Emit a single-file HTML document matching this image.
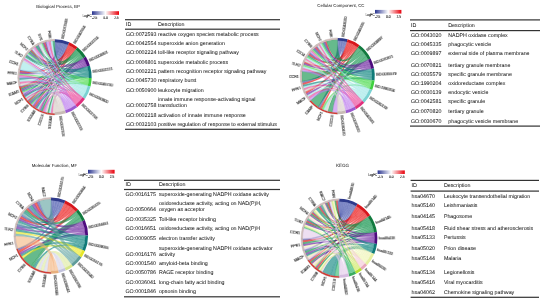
<!DOCTYPE html>
<html><head><meta charset="utf-8"><style>
html,body{margin:0;padding:0;background:#fff;width:550px;height:308px;overflow:hidden}
#root{position:absolute;left:0;top:0;width:550px;height:308px}
svg{display:block}
svg{position:absolute;left:0;top:0}
.t{font-family:"Liberation Sans",Arial,sans-serif;font-size:5.3px;fill:#1a1a1a;stroke:#1a1a1a;stroke-width:0.04px}
.ti{font-family:"Liberation Sans",Arial,sans-serif;font-size:4.35px;fill:#222;stroke:#222;stroke-width:0.03px}
.lg{font-family:"Liberation Sans",Arial,sans-serif;font-size:3.2px;fill:#111;stroke:#111;stroke-width:0.08px}
.hl{position:absolute;left:0;top:0;font-family:"Liberation Sans",Arial,sans-serif;color:#111;-webkit-text-stroke:1px #111;white-space:nowrap;transform-origin:0 0;will-change:transform}
.lg2{color:#484848;-webkit-text-stroke:0.6px #484848}
.lb2{font-family:"Liberation Sans",Arial,sans-serif;font-size:34.5px;fill:#333}
.lb{position:absolute;left:0;top:0;font-family:"Liberation Sans",Arial,sans-serif;font-size:36px;line-height:36px;color:#1a1a1a;-webkit-text-stroke:1.2px #1a1a1a;white-space:nowrap;transform-origin:0 0;will-change:transform}
</style></head><body><div id="root">
<svg width="550" height="308" viewBox="0 0 550 308" xmlns="http://www.w3.org/2000/svg" text-rendering="geometricPrecision">
<defs><linearGradient id="lgd" x1="0" x2="1" y1="0" y2="0">
<stop offset="0" stop-color="#2a3590"/><stop offset="0.5" stop-color="#ffffff"/><stop offset="1" stop-color="#e8000b"/>
</linearGradient></defs>
<rect x="125" y="19.10" width="155" height="1.2" fill="#333"/>
<rect x="125" y="28.60" width="155" height="1.2" fill="#333"/>
<rect x="125" y="128.70" width="155" height="1.2" fill="#333"/>
<text x="126" y="25.85" class="t">ID</text>
<text x="158" y="25.85" class="t">Description</text>
<text x="126" y="35.70" class="t">GO:0072593</text>
<text x="158" y="35.70" class="t">reactive oxygen species metabolic process</text>
<text x="126" y="44.55" class="t">GO:0042554</text>
<text x="158" y="44.55" class="t">superoxide anion generation</text>
<text x="126" y="54.25" class="t">GO:0002224</text>
<text x="158" y="54.25" class="t">toll-like receptor signaling pathway</text>
<text x="126" y="63.75" class="t">GO:0006801</text>
<text x="158" y="63.75" class="t">superoxide metabolic process</text>
<text x="126" y="72.75" class="t">GO:0002221</text>
<text x="158" y="72.75" class="t">pattern recognition receptor signaling pathway</text>
<text x="126" y="82.25" class="t">GO:0045730</text>
<text x="158" y="82.25" class="t">respiratory burst</text>
<text x="126" y="91.75" class="t">GO:0050900</text>
<text x="158" y="91.75" class="t">leukocyte migration</text>
<text x="126" y="107.25" class="t">GO:0002758</text>
<text x="158" y="100.85" class="t">innate immune response-activating signal</text>
<text x="158" y="107.25" class="t">transduction</text>
<text x="126" y="116.75" class="t">GO:0002218</text>
<text x="158" y="116.75" class="t">activation of innate immune response</text>
<text x="126" y="126.05" class="t">GO:0032103</text>
<text x="158" y="126.05" class="t">positive regulation of response to external stimulus</text>
<rect x="410" y="19.30" width="130" height="1.2" fill="#333"/>
<rect x="410" y="30.00" width="130" height="1.2" fill="#333"/>
<rect x="410" y="125.50" width="130" height="1.2" fill="#333"/>
<text x="411" y="26.95" class="t">ID</text>
<text x="448.3" y="26.95" class="t">Description</text>
<text x="411" y="36.65" class="t">GO:0043020</text>
<text x="448.3" y="36.65" class="t">NADPH oxidase complex</text>
<text x="411" y="45.75" class="t">GO:0045335</text>
<text x="448.3" y="45.75" class="t">phagocytic vesicle</text>
<text x="411" y="54.85" class="t">GO:0009897</text>
<text x="448.3" y="54.85" class="t">external side of plasma membrane</text>
<text x="411" y="66.55" class="t">GO:0070821</text>
<text x="448.3" y="66.55" class="t">tertiary granule membrane</text>
<text x="411" y="75.55" class="t">GO:0035579</text>
<text x="448.3" y="75.55" class="t">specific granule membrane</text>
<text x="411" y="84.85" class="t">GO:1990204</text>
<text x="448.3" y="84.85" class="t">oxidoreductase complex</text>
<text x="411" y="94.35" class="t">GO:0030139</text>
<text x="448.3" y="94.35" class="t">endocytic vesicle</text>
<text x="411" y="103.45" class="t">GO:0042581</text>
<text x="448.3" y="103.45" class="t">specific granule</text>
<text x="411" y="113.15" class="t">GO:0070820</text>
<text x="448.3" y="113.15" class="t">tertiary granule</text>
<text x="411" y="122.55" class="t">GO:0030670</text>
<text x="448.3" y="122.55" class="t">phagocytic vesicle membrane</text>
<rect x="124" y="179.70" width="156" height="1.2" fill="#333"/>
<rect x="124" y="188.90" width="156" height="1.2" fill="#333"/>
<rect x="124" y="296.20" width="156" height="1.2" fill="#333"/>
<text x="125.5" y="186.45" class="t">ID</text>
<text x="158.9" y="186.45" class="t">Description</text>
<text x="125.5" y="196.15" class="t">GO:0016175</text>
<text x="158.9" y="196.15" class="t">superoxide-generating NADPH oxidase activity</text>
<text x="125.5" y="211.45" class="t">GO:0050664</text>
<text x="158.9" y="204.75" class="t">oxidoreductase activity, acting on NAD(P)H,</text>
<text x="158.9" y="211.45" class="t">oxygen as acceptor</text>
<text x="125.5" y="220.75" class="t">GO:0035325</text>
<text x="158.9" y="220.75" class="t">Toll-like receptor binding</text>
<text x="125.5" y="230.45" class="t">GO:0016651</text>
<text x="158.9" y="230.45" class="t">oxidoreductase activity, acting on NAD(P)H</text>
<text x="125.5" y="239.65" class="t">GO:0009055</text>
<text x="158.9" y="239.65" class="t">electron transfer activity</text>
<text x="125.5" y="255.55" class="t">GO:0016176</text>
<text x="158.9" y="249.55" class="t">superoxide-generating NADPH oxidase activator</text>
<text x="158.9" y="255.55" class="t">activity</text>
<text x="125.5" y="265.15" class="t">GO:0001540</text>
<text x="158.9" y="265.15" class="t">amyloid-beta binding</text>
<text x="125.5" y="274.45" class="t">GO:0050786</text>
<text x="158.9" y="274.45" class="t">RAGE receptor binding</text>
<text x="125.5" y="283.95" class="t">GO:0036041</text>
<text x="158.9" y="283.95" class="t">long-chain fatty acid binding</text>
<text x="125.5" y="293.25" class="t">GO:0001846</text>
<text x="158.9" y="293.25" class="t">opsonin binding</text>
<rect x="410.6" y="179.80" width="128.39999999999998" height="1.2" fill="#333"/>
<rect x="410.6" y="190.50" width="128.39999999999998" height="1.2" fill="#333"/>
<rect x="410.6" y="296.70" width="128.39999999999998" height="1.2" fill="#333"/>
<text x="411.6" y="187.45" class="t">ID</text>
<text x="443.9" y="187.45" class="t">Description</text>
<text x="411.6" y="197.75" class="t">hsa04670</text>
<text x="443.9" y="197.75" class="t">Leukocyte transendothelial migration</text>
<text x="411.6" y="207.25" class="t">hsa05140</text>
<text x="443.9" y="207.25" class="t">Leishmaniasis</text>
<text x="411.6" y="218.25" class="t">hsa04145</text>
<text x="443.9" y="218.25" class="t">Phagosome</text>
<text x="411.6" y="229.95" class="t">hsa05418</text>
<text x="443.9" y="229.95" class="t">Fluid shear stress and atherosclerosis</text>
<text x="411.6" y="239.05" class="t">hsa05133</text>
<text x="443.9" y="239.05" class="t">Pertussis</text>
<text x="411.6" y="250.25" class="t">hsa05020</text>
<text x="443.9" y="250.25" class="t">Prion disease</text>
<text x="411.6" y="259.65" class="t">hsa05144</text>
<text x="443.9" y="259.65" class="t">Malaria</text>
<text x="411.6" y="273.85" class="t">hsa05134</text>
<text x="443.9" y="273.85" class="t">Legionellosis</text>
<text x="411.6" y="283.85" class="t">hsa05416</text>
<text x="443.9" y="283.85" class="t">Viral myocarditis</text>
<text x="411.6" y="293.85" class="t">hsa04062</text>
<text x="443.9" y="293.85" class="t">Chemokine signaling pathway</text>
<text x="58" y="8.0" class="ti" text-anchor="middle">Biological Process, BP</text>
<text x="340.9" y="6.5" class="ti" text-anchor="middle">Cellular Component, CC</text>
<text x="54.4" y="166.8" class="ti" text-anchor="middle">Molecular Function, MF</text>
<text x="342.6" y="167.2" class="ti" text-anchor="middle" style="font-size:4.55px">KEGG</text>
<rect x="92" y="11.2" width="27" height="3.7" fill="url(#lgd)"/>
<rect x="375" y="9.9" width="26.4" height="3.7" fill="url(#lgd)"/>
<rect x="88" y="169.8" width="26.6" height="3.8" fill="url(#lgd)"/>
<rect x="377.6" y="170.4" width="27.2" height="3.6" fill="url(#lgd)"/>
<g transform="translate(54.7 77.2) scale(1 1.0257) translate(-54.7 -77.2)">
<g fill="#3c4ba8" fill-opacity="0.6" stroke="#3c4ba8" stroke-opacity="0.6" stroke-width="0.3">
<path d="M54.73,43.05A34.150000000000006,34.150000000000006 0 0 1 56.11,43.08Q54.70,77.20 45.08,43.08A35.45,35.45 0 0 1 46.39,42.74Q54.70,77.20 54.73,43.05Z"/>
<path d="M56.11,43.08A34.150000000000006,34.150000000000006 0 0 1 57.48,43.16Q54.70,77.20 37.54,46.18A35.45,35.45 0 0 1 38.72,45.56Q54.70,77.20 56.11,43.08Z"/>
<path d="M57.48,43.16A34.150000000000006,34.150000000000006 0 0 1 58.85,43.30Q54.70,77.20 31.23,50.63A35.45,35.45 0 0 1 32.01,49.96Q54.70,77.20 57.48,43.16Z"/>
<path d="M58.85,43.30A34.150000000000006,34.150000000000006 0 0 1 60.21,43.50Q54.70,77.20 26.27,56.02A35.45,35.45 0 0 1 26.94,55.16Q54.70,77.20 58.85,43.30Z"/>
<path d="M60.21,43.50A34.150000000000006,34.150000000000006 0 0 1 61.57,43.75Q54.70,77.20 19.77,71.17A35.45,35.45 0 0 1 20.02,69.86Q54.70,77.20 60.21,43.50Z"/>
<path d="M61.57,43.75A34.150000000000006,34.150000000000006 0 0 1 62.91,44.05Q54.70,77.20 20.62,86.95A35.45,35.45 0 0 1 20.31,85.81Q54.70,77.20 61.57,43.75Z"/>
<path d="M62.91,44.05A34.150000000000006,34.150000000000006 0 0 1 64.24,44.41Q54.70,77.20 23.86,94.67A35.45,35.45 0 0 1 23.27,93.60Q54.70,77.20 62.91,44.05Z"/>
<path d="M64.24,44.41A34.150000000000006,34.150000000000006 0 0 1 65.55,44.82Q54.70,77.20 28.05,100.57A35.45,35.45 0 0 1 27.37,99.77Q54.70,77.20 64.24,44.41Z"/>
<path d="M65.55,44.82A34.150000000000006,34.150000000000006 0 0 1 66.85,45.28Q54.70,77.20 33.75,105.80A35.45,35.45 0 0 1 32.66,104.96Q54.70,77.20 65.55,44.82Z"/>
<path d="M66.85,45.28A34.150000000000006,34.150000000000006 0 0 1 68.13,45.80Q54.70,77.20 41.21,109.98A35.45,35.45 0 0 1 39.75,109.34Q54.70,77.20 66.85,45.28Z"/>
</g>
<g fill="#e90707" fill-opacity="0.6" stroke="#e90707" stroke-opacity="0.6" stroke-width="0.3">
<path d="M68.18,45.82A34.150000000000006,34.150000000000006 0 0 1 69.51,46.43Q54.70,77.20 43.78,43.47A35.45,35.45 0 0 1 45.08,43.08Q54.70,77.20 68.18,45.82Z"/>
<path d="M69.51,46.43A34.150000000000006,34.150000000000006 0 0 1 70.81,47.09Q54.70,77.20 30.47,51.33A35.45,35.45 0 0 1 31.23,50.63Q54.70,77.20 69.51,46.43Z"/>
<path d="M70.81,47.09A34.150000000000006,34.150000000000006 0 0 1 72.08,47.81Q54.70,77.20 19.57,72.48A35.45,35.45 0 0 1 19.77,71.17Q54.70,77.20 70.81,47.09Z"/>
<path d="M72.08,47.81A34.150000000000006,34.150000000000006 0 0 1 73.32,48.58Q54.70,77.20 20.96,88.08A35.45,35.45 0 0 1 20.62,86.95Q54.70,77.20 72.08,47.81Z"/>
<path d="M73.32,48.58A34.150000000000006,34.150000000000006 0 0 1 74.53,49.40Q54.70,77.20 28.75,101.35A35.45,35.45 0 0 1 28.05,100.57Q54.70,77.20 73.32,48.58Z"/>
<path d="M74.53,49.40A34.150000000000006,34.150000000000006 0 0 1 75.70,50.27Q54.70,77.20 34.89,106.60A35.45,35.45 0 0 1 33.75,105.80Q54.70,77.20 74.53,49.40Z"/>
</g>
<g fill="#008c3f" fill-opacity="0.6" stroke="#008c3f" stroke-opacity="0.6" stroke-width="0.3">
<path d="M75.75,50.31A34.150000000000006,34.150000000000006 0 0 1 76.84,51.20Q54.70,77.20 52.60,41.81A35.45,35.45 0 0 1 54.67,41.75Q54.70,77.20 75.75,50.31Z"/>
<path d="M76.84,51.20A34.150000000000006,34.150000000000006 0 0 1 77.90,52.14Q54.70,77.20 36.39,46.85A35.45,35.45 0 0 1 37.54,46.18Q54.70,77.20 76.84,51.20Z"/>
<path d="M77.90,52.14A34.150000000000006,34.150000000000006 0 0 1 78.92,53.13Q54.70,77.20 29.72,52.04A35.45,35.45 0 0 1 30.47,51.33Q54.70,77.20 77.90,52.14Z"/>
<path d="M78.92,53.13A34.150000000000006,34.150000000000006 0 0 1 79.90,54.15Q54.70,77.20 25.63,56.91A35.45,35.45 0 0 1 26.27,56.02Q54.70,77.20 78.92,53.13Z"/>
<path d="M79.90,54.15A34.150000000000006,34.150000000000006 0 0 1 80.83,55.21Q54.70,77.20 21.34,89.20A35.45,35.45 0 0 1 20.96,88.08Q54.70,77.20 79.90,54.15Z"/>
<path d="M80.83,55.21A34.150000000000006,34.150000000000006 0 0 1 81.72,56.32Q54.70,77.20 29.48,102.11A35.45,35.45 0 0 1 28.75,101.35Q54.70,77.20 80.83,55.21Z"/>
<path d="M81.72,56.32A34.150000000000006,34.150000000000006 0 0 1 82.56,57.45Q54.70,77.20 42.70,110.56A35.45,35.45 0 0 1 41.21,109.98Q54.70,77.20 81.72,56.32Z"/>
<path d="M82.56,57.45A34.150000000000006,34.150000000000006 0 0 1 83.36,58.63Q54.70,77.20 49.17,112.22A35.45,35.45 0 0 1 47.36,111.88Q54.70,77.20 82.56,57.45Z"/>
</g>
<g fill="#641799" fill-opacity="0.6" stroke="#641799" stroke-opacity="0.6" stroke-width="0.3">
<path d="M83.39,58.68A34.150000000000006,34.150000000000006 0 0 1 84.06,59.76Q54.70,77.20 42.50,43.91A35.45,35.45 0 0 1 43.78,43.47Q54.70,77.20 83.39,58.68Z"/>
<path d="M84.06,59.76A34.150000000000006,34.150000000000006 0 0 1 84.69,60.87Q54.70,77.20 29.00,52.78A35.45,35.45 0 0 1 29.72,52.04Q54.70,77.20 84.06,59.76Z"/>
<path d="M84.69,60.87A34.150000000000006,34.150000000000006 0 0 1 85.28,62.00Q54.70,77.20 19.41,73.80A35.45,35.45 0 0 1 19.57,72.48Q54.70,77.20 84.69,60.87Z"/>
<path d="M85.28,62.00A34.150000000000006,34.150000000000006 0 0 1 85.83,63.16Q54.70,77.20 21.76,90.31A35.45,35.45 0 0 1 21.34,89.20Q54.70,77.20 85.28,62.00Z"/>
<path d="M85.83,63.16A34.150000000000006,34.150000000000006 0 0 1 86.33,64.33Q54.70,77.20 24.48,95.73A35.45,35.45 0 0 1 23.86,94.67Q54.70,77.20 85.83,63.16Z"/>
<path d="M86.33,64.33A34.150000000000006,34.150000000000006 0 0 1 86.79,65.52Q54.70,77.20 30.23,102.85A35.45,35.45 0 0 1 29.48,102.11Q54.70,77.20 86.33,64.33Z"/>
<path d="M86.79,65.52A34.150000000000006,34.150000000000006 0 0 1 87.21,66.73Q54.70,77.20 36.05,107.34A35.45,35.45 0 0 1 34.89,106.60Q54.70,77.20 86.79,65.52Z"/>
</g>
<g fill="#007f78" fill-opacity="0.6" stroke="#007f78" stroke-opacity="0.6" stroke-width="0.3">
<path d="M87.22,66.79A34.150000000000006,34.150000000000006 0 0 1 87.62,68.13Q54.70,77.20 35.26,47.55A35.45,35.45 0 0 1 36.39,46.85Q54.70,77.20 87.22,66.79Z"/>
<path d="M87.62,68.13A34.150000000000006,34.150000000000006 0 0 1 87.97,69.49Q54.70,77.20 28.31,53.54A35.45,35.45 0 0 1 29.00,52.78Q54.70,77.20 87.62,68.13Z"/>
<path d="M87.97,69.49A34.150000000000006,34.150000000000006 0 0 1 88.26,70.86Q54.70,77.20 25.01,57.82A35.45,35.45 0 0 1 25.63,56.91Q54.70,77.20 87.97,69.49Z"/>
<path d="M88.26,70.86A34.150000000000006,34.150000000000006 0 0 1 88.49,72.24Q54.70,77.20 19.35,79.84A35.45,35.45 0 0 1 19.26,77.85Q54.70,77.20 88.26,70.86Z"/>
<path d="M88.49,72.24A34.150000000000006,34.150000000000006 0 0 1 88.66,73.63Q54.70,77.20 22.22,91.40A35.45,35.45 0 0 1 21.76,90.31Q54.70,77.20 88.49,72.24Z"/>
<path d="M88.66,73.63A34.150000000000006,34.150000000000006 0 0 1 88.78,75.03Q54.70,77.20 25.14,96.77A35.45,35.45 0 0 1 24.48,95.73Q54.70,77.20 88.66,73.63Z"/>
<path d="M88.78,75.03A34.150000000000006,34.150000000000006 0 0 1 88.84,76.43Q54.70,77.20 31.00,103.57A35.45,35.45 0 0 1 30.23,102.85Q54.70,77.20 88.78,75.03Z"/>
<path d="M88.84,76.43A34.150000000000006,34.150000000000006 0 0 1 88.84,77.83Q54.70,77.20 37.23,108.05A35.45,35.45 0 0 1 36.05,107.34Q54.70,77.20 88.84,76.43Z"/>
</g>
<g fill="#44d946" fill-opacity="0.6" stroke="#44d946" stroke-opacity="0.6" stroke-width="0.3">
<path d="M88.84,77.89A34.150000000000006,34.150000000000006 0 0 1 88.78,79.42Q54.70,77.20 41.24,44.41A35.45,35.45 0 0 1 42.50,43.91Q54.70,77.20 88.84,77.89Z"/>
<path d="M88.78,79.42A34.150000000000006,34.150000000000006 0 0 1 88.64,80.95Q54.70,77.20 27.63,54.31A35.45,35.45 0 0 1 28.31,53.54Q54.70,77.20 88.78,79.42Z"/>
<path d="M88.64,80.95A34.150000000000006,34.150000000000006 0 0 1 88.44,82.48Q54.70,77.20 19.31,75.13A35.45,35.45 0 0 1 19.41,73.80Q54.70,77.20 88.64,80.95Z"/>
<path d="M88.44,82.48A34.150000000000006,34.150000000000006 0 0 1 88.17,83.99Q54.70,77.20 22.71,92.48A35.45,35.45 0 0 1 22.22,91.40Q54.70,77.20 88.44,82.48Z"/>
<path d="M88.17,83.99A34.150000000000006,34.150000000000006 0 0 1 87.83,85.49Q54.70,77.20 31.79,104.26A35.45,35.45 0 0 1 31.00,103.57Q54.70,77.20 88.17,83.99Z"/>
</g>
<g fill="#99e6e6" fill-opacity="0.6" stroke="#99e6e6" stroke-opacity="0.6" stroke-width="0.3">
<path d="M87.81,85.55A34.150000000000006,34.150000000000006 0 0 1 87.45,86.88Q54.70,77.20 50.53,42.00A35.45,35.45 0 0 1 52.60,41.81Q54.70,77.20 87.81,85.55Z"/>
<path d="M87.45,86.88A34.150000000000006,34.150000000000006 0 0 1 87.03,88.20Q54.70,77.20 39.99,44.94A35.45,35.45 0 0 1 41.24,44.41Q54.70,77.20 87.45,86.88Z"/>
<path d="M87.03,88.20A34.150000000000006,34.150000000000006 0 0 1 86.56,89.50Q54.70,77.20 26.98,55.11A35.45,35.45 0 0 1 27.63,54.31Q54.70,77.20 87.03,88.20Z"/>
<path d="M86.56,89.50A34.150000000000006,34.150000000000006 0 0 1 86.03,90.78Q54.70,77.20 24.43,58.75A35.45,35.45 0 0 1 25.01,57.82Q54.70,77.20 86.56,89.50Z"/>
<path d="M86.03,90.78A34.150000000000006,34.150000000000006 0 0 1 85.46,92.04Q54.70,77.20 20.03,69.80A35.45,35.45 0 0 1 22.82,61.69Q54.70,77.20 86.03,90.78Z"/>
<path d="M85.46,92.04A34.150000000000006,34.150000000000006 0 0 1 84.83,93.28Q54.70,77.20 19.55,81.83A35.45,35.45 0 0 1 19.35,79.84Q54.70,77.20 85.46,92.04Z"/>
<path d="M84.83,93.28A34.150000000000006,34.150000000000006 0 0 1 84.15,94.48Q54.70,77.20 25.83,97.78A35.45,35.45 0 0 1 25.14,96.77Q54.70,77.20 84.83,93.28Z"/>
<path d="M84.15,94.48A34.150000000000006,34.150000000000006 0 0 1 83.43,95.66Q54.70,77.20 38.45,108.71A35.45,35.45 0 0 1 37.23,108.05Q54.70,77.20 84.15,94.48Z"/>
<path d="M83.43,95.66A34.150000000000006,34.150000000000006 0 0 1 82.66,96.81Q54.70,77.20 50.99,112.46A35.45,35.45 0 0 1 49.17,112.22Q54.70,77.20 83.43,95.66Z"/>
</g>
<g fill="#e93f96" fill-opacity="0.6" stroke="#e93f96" stroke-opacity="0.6" stroke-width="0.3">
<path d="M82.62,96.86A34.150000000000006,34.150000000000006 0 0 1 81.94,97.79Q54.70,77.20 48.48,42.30A35.45,35.45 0 0 1 50.53,42.00Q54.70,77.20 82.62,96.86Z"/>
<path d="M81.94,97.79A34.150000000000006,34.150000000000006 0 0 1 81.23,98.70Q54.70,77.20 34.16,48.30A35.45,35.45 0 0 1 35.26,47.55Q54.70,77.20 81.94,97.79Z"/>
<path d="M81.23,98.70A34.150000000000006,34.150000000000006 0 0 1 80.49,99.58Q54.70,77.20 23.87,59.69A35.45,35.45 0 0 1 24.43,58.75Q54.70,77.20 81.23,98.70Z"/>
<path d="M80.49,99.58A34.150000000000006,34.150000000000006 0 0 1 79.72,100.44Q54.70,77.20 19.26,76.46A35.45,35.45 0 0 1 19.31,75.13Q54.70,77.20 80.49,99.58Z"/>
<path d="M79.72,100.44A34.150000000000006,34.150000000000006 0 0 1 78.92,101.27Q54.70,77.20 19.87,83.80A35.45,35.45 0 0 1 19.55,81.83Q54.70,77.20 79.72,100.44Z"/>
<path d="M78.92,101.27A34.150000000000006,34.150000000000006 0 0 1 78.10,102.07Q54.70,77.20 26.56,98.76A35.45,35.45 0 0 1 25.83,97.78Q54.70,77.20 78.92,101.27Z"/>
<path d="M78.10,102.07A34.150000000000006,34.150000000000006 0 0 1 77.25,102.85Q54.70,77.20 39.69,109.32A35.45,35.45 0 0 1 38.45,108.71Q54.70,77.20 78.10,102.07Z"/>
<path d="M77.25,102.85A34.150000000000006,34.150000000000006 0 0 1 76.37,103.60Q54.70,77.20 44.21,111.06A35.45,35.45 0 0 1 42.70,110.56Q54.70,77.20 77.25,102.85Z"/>
<path d="M76.37,103.60A34.150000000000006,34.150000000000006 0 0 1 75.47,104.31Q54.70,77.20 52.83,112.60A35.45,35.45 0 0 1 50.99,112.46Q54.70,77.20 76.37,103.60Z"/>
</g>
<g fill="#bb7bed" fill-opacity="0.6" stroke="#bb7bed" stroke-opacity="0.6" stroke-width="0.3">
<path d="M75.42,104.35A34.150000000000006,34.150000000000006 0 0 1 74.05,105.34Q54.70,77.20 46.45,42.72A35.45,35.45 0 0 1 48.48,42.30Q54.70,77.20 75.42,104.35Z"/>
<path d="M74.05,105.34A34.150000000000006,34.150000000000006 0 0 1 72.64,106.26Q54.70,77.20 33.09,49.09A35.45,35.45 0 0 1 34.16,48.30Q54.70,77.20 74.05,105.34Z"/>
<path d="M72.64,106.26A34.150000000000006,34.150000000000006 0 0 1 71.19,107.11Q54.70,77.20 23.35,60.65A35.45,35.45 0 0 1 23.87,59.69Q54.70,77.20 72.64,106.26Z"/>
<path d="M71.19,107.11A34.150000000000006,34.150000000000006 0 0 1 69.69,107.88Q54.70,77.20 19.25,77.79A35.45,35.45 0 0 1 19.26,76.46Q54.70,77.20 71.19,107.11Z"/>
<path d="M69.69,107.88A34.150000000000006,34.150000000000006 0 0 1 68.16,108.59Q54.70,77.20 23.24,93.54A35.45,35.45 0 0 1 22.71,92.48Q54.70,77.20 69.69,107.88Z"/>
<path d="M68.16,108.59A34.150000000000006,34.150000000000006 0 0 1 66.59,109.21Q54.70,77.20 32.61,104.92A35.45,35.45 0 0 1 31.79,104.26Q54.70,77.20 68.16,108.59Z"/>
<path d="M66.59,109.21A34.150000000000006,34.150000000000006 0 0 1 65.00,109.76Q54.70,77.20 45.75,111.50A35.45,35.45 0 0 1 44.21,111.06Q54.70,77.20 66.59,109.21Z"/>
</g>
<g fill="#d9cfc8" fill-opacity="0.6" stroke="#d9cfc8" stroke-opacity="0.6" stroke-width="0.3">
<path d="M64.94,109.78A34.150000000000006,34.150000000000006 0 0 1 63.52,110.19Q54.70,77.20 38.77,45.53A35.45,35.45 0 0 1 39.99,44.94Q54.70,77.20 64.94,109.78Z"/>
<path d="M63.52,110.19A34.150000000000006,34.150000000000006 0 0 1 62.08,110.54Q54.70,77.20 32.06,49.92A35.45,35.45 0 0 1 33.09,49.09Q54.70,77.20 63.52,110.19Z"/>
<path d="M62.08,110.54A34.150000000000006,34.150000000000006 0 0 1 60.63,110.83Q54.70,77.20 22.85,61.63A35.45,35.45 0 0 1 23.35,60.65Q54.70,77.20 62.08,110.54Z"/>
<path d="M60.63,110.83A34.150000000000006,34.150000000000006 0 0 1 59.16,111.06Q54.70,77.20 20.30,85.75A35.45,35.45 0 0 1 19.87,83.80Q54.70,77.20 60.63,110.83Z"/>
<path d="M59.16,111.06A34.150000000000006,34.150000000000006 0 0 1 57.69,111.22Q54.70,77.20 27.33,99.73A35.45,35.45 0 0 1 26.56,98.76Q54.70,77.20 59.16,111.06Z"/>
<path d="M57.69,111.22A34.150000000000006,34.150000000000006 0 0 1 56.21,111.32Q54.70,77.20 47.30,111.87A35.45,35.45 0 0 1 45.75,111.50Q54.70,77.20 57.69,111.22Z"/>
<path d="M56.21,111.32A34.150000000000006,34.150000000000006 0 0 1 54.73,111.35Q54.70,77.20 54.67,112.65A35.45,35.45 0 0 1 52.83,112.60Q54.70,77.20 56.21,111.32Z"/>
</g>
<path d="M54.70,40.25A36.95,36.95 0 0 1 69.26,43.24L68.15,45.81A34.150000000000006,34.150000000000006 0 0 0 54.70,43.05Z" fill="#2e3a8c"/>
<path d="M69.26,43.24A36.95,36.95 0 0 1 77.45,48.08L75.72,50.29A34.150000000000006,34.150000000000006 0 0 0 68.15,45.81Z" fill="#d8161c"/>
<path d="M77.45,48.08A36.95,36.95 0 0 1 85.72,57.13L83.37,58.65A34.150000000000006,34.150000000000006 0 0 0 75.72,50.29Z" fill="#117a3e"/>
<path d="M85.72,57.13A36.95,36.95 0 0 1 89.88,65.90L87.22,66.76A34.150000000000006,34.150000000000006 0 0 0 83.37,58.65Z" fill="#4d0c7e"/>
<path d="M89.88,65.90A36.95,36.95 0 0 1 91.64,77.91L88.84,77.86A34.150000000000006,34.150000000000006 0 0 0 87.22,66.76Z" fill="#0f7a78"/>
<path d="M91.64,77.91A36.95,36.95 0 0 1 90.54,86.20L87.82,85.52A34.150000000000006,34.150000000000006 0 0 0 88.84,77.86Z" fill="#3fd03f"/>
<path d="M90.54,86.20A36.95,36.95 0 0 1 84.93,98.45L82.64,96.84A34.150000000000006,34.150000000000006 0 0 0 87.82,85.52Z" fill="#7ad2d2"/>
<path d="M84.93,98.45A36.95,36.95 0 0 1 77.14,106.55L75.44,104.33A34.150000000000006,34.150000000000006 0 0 0 82.64,96.84Z" fill="#e0307c"/>
<path d="M77.14,106.55A36.95,36.95 0 0 1 65.81,112.44L64.97,109.77A34.150000000000006,34.150000000000006 0 0 0 75.44,104.33Z" fill="#9a5ad0"/>
<path d="M65.81,112.44A36.95,36.95 0 0 1 54.70,114.15L54.70,111.35A34.150000000000006,34.150000000000006 0 0 0 64.97,109.77Z" fill="#c8bcb6"/>
<path d="M54.70,114.15A36.95,36.95 0 0 1 47.02,113.34L47.33,111.88A35.45,35.45 0 0 0 54.70,112.65Z" fill="#d8322a" stroke="#9a8c8a" stroke-width="0.25"/>
<path d="M47.02,113.34A36.95,36.95 0 0 1 39.08,110.69L39.72,109.33A35.45,35.45 0 0 0 47.33,111.88Z" fill="#d8322a" stroke="#9a8c8a" stroke-width="0.25"/>
<path d="M39.08,110.69A36.95,36.95 0 0 1 31.70,106.12L32.63,104.94A35.45,35.45 0 0 0 39.72,109.33Z" fill="#d8322a" stroke="#9a8c8a" stroke-width="0.25"/>
<path d="M31.70,106.12A36.95,36.95 0 0 1 26.19,100.70L27.35,99.75A35.45,35.45 0 0 0 32.63,104.94Z" fill="#d8322a" stroke="#9a8c8a" stroke-width="0.25"/>
<path d="M26.19,100.70A36.95,36.95 0 0 1 21.92,94.26L23.26,93.57A35.45,35.45 0 0 0 27.35,99.75Z" fill="#d8322a" stroke="#9a8c8a" stroke-width="0.25"/>
<path d="M21.92,94.26A36.95,36.95 0 0 1 18.85,86.14L20.30,85.78A35.45,35.45 0 0 0 23.26,93.57Z" fill="#d8322a" stroke="#9a8c8a" stroke-width="0.25"/>
<path d="M18.85,86.14A36.95,36.95 0 0 1 17.76,77.84L19.26,77.82A35.45,35.45 0 0 0 20.30,85.78Z" fill="#d6c2c0" stroke="#9a8c8a" stroke-width="0.25"/>
<path d="M17.76,77.84A36.95,36.95 0 0 1 18.56,69.52L20.02,69.83A35.45,35.45 0 0 0 19.26,77.82Z" fill="#d6c2c0" stroke="#9a8c8a" stroke-width="0.25"/>
<path d="M18.56,69.52A36.95,36.95 0 0 1 21.49,61.00L22.84,61.66A35.45,35.45 0 0 0 20.02,69.83Z" fill="#d6c2c0" stroke="#9a8c8a" stroke-width="0.25"/>
<path d="M21.49,61.00A36.95,36.95 0 0 1 25.78,54.20L26.96,55.13A35.45,35.45 0 0 0 22.84,61.66Z" fill="#d6c2c0" stroke="#9a8c8a" stroke-width="0.25"/>
<path d="M25.78,54.20A36.95,36.95 0 0 1 31.07,48.79L32.03,49.94A35.45,35.45 0 0 0 26.96,55.13Z" fill="#d6c2c0" stroke="#9a8c8a" stroke-width="0.25"/>
<path d="M31.07,48.79A36.95,36.95 0 0 1 38.07,44.20L38.74,45.54A35.45,35.45 0 0 0 32.03,49.94Z" fill="#d6c2c0" stroke="#9a8c8a" stroke-width="0.25"/>
<path d="M38.07,44.20A36.95,36.95 0 0 1 46.07,41.27L46.42,42.73A35.45,35.45 0 0 0 38.74,45.54Z" fill="#d6c2c0" stroke="#9a8c8a" stroke-width="0.25"/>
<path d="M46.07,41.27A36.95,36.95 0 0 1 54.70,40.25L54.70,41.75A35.45,35.45 0 0 0 46.42,42.73Z" fill="#d6c2c0" stroke="#9a8c8a" stroke-width="0.25"/>
</g>
<g transform="translate(337.5 76.05) scale(1 1.0228) translate(-337.5 -76.05)">
<g fill="#3c4ba8" fill-opacity="0.6" stroke="#3c4ba8" stroke-opacity="0.6" stroke-width="0.3">
<path d="M337.53,41.55A34.5,34.5 0 0 1 339.89,41.63Q337.50,76.05 316.08,47.37A35.8,35.8 0 0 1 317.20,46.56Q337.50,76.05 337.53,41.55Z"/>
<path d="M339.89,41.63A34.5,34.5 0 0 1 342.24,41.88Q337.50,76.05 309.14,54.20A35.8,35.8 0 0 1 310.06,53.06Q337.50,76.05 339.89,41.63Z"/>
<path d="M342.24,41.88A34.5,34.5 0 0 1 344.57,42.28Q337.50,76.05 302.40,83.11A35.8,35.8 0 0 1 302.10,81.37Q337.50,76.05 342.24,41.88Z"/>
<path d="M344.57,42.28A34.5,34.5 0 0 1 346.86,42.85Q337.50,76.05 320.05,107.31A35.8,35.8 0 0 1 318.29,106.26Q337.50,76.05 344.57,42.28Z"/>
</g>
<g fill="#e90707" fill-opacity="0.6" stroke="#e90707" stroke-opacity="0.6" stroke-width="0.3">
<path d="M346.92,42.86A34.5,34.5 0 0 1 348.59,43.38Q337.50,76.05 325.03,42.49A35.8,35.8 0 0 1 326.41,42.01Q337.50,76.05 346.92,42.86Z"/>
<path d="M348.59,43.38A34.5,34.5 0 0 1 350.23,43.98Q337.50,76.05 314.99,48.21A35.8,35.8 0 0 1 316.08,47.37Q337.50,76.05 348.59,43.38Z"/>
<path d="M350.23,43.98A34.5,34.5 0 0 1 351.83,44.67Q337.50,76.05 308.27,55.38A35.8,35.8 0 0 1 309.14,54.20Q337.50,76.05 350.23,43.98Z"/>
<path d="M351.83,44.67A34.5,34.5 0 0 1 353.40,45.43Q337.50,76.05 304.03,63.34A35.8,35.8 0 0 1 304.66,61.80Q337.50,76.05 351.83,44.67Z"/>
<path d="M353.40,45.43A34.5,34.5 0 0 1 354.93,46.28Q337.50,76.05 302.79,84.82A35.8,35.8 0 0 1 302.40,83.11Q337.50,76.05 353.40,45.43Z"/>
<path d="M354.93,46.28A34.5,34.5 0 0 1 356.42,47.20Q337.50,76.05 306.11,93.26A35.8,35.8 0 0 1 305.20,91.49Q337.50,76.05 354.93,46.28Z"/>
<path d="M356.42,47.20A34.5,34.5 0 0 1 357.85,48.19Q337.50,76.05 321.87,108.26A35.8,35.8 0 0 1 320.05,107.31Q337.50,76.05 356.42,47.20Z"/>
</g>
<g fill="#008c3f" fill-opacity="0.6" stroke="#008c3f" stroke-opacity="0.6" stroke-width="0.3">
<path d="M357.90,48.23A34.5,34.5 0 0 1 360.94,50.74Q337.50,76.05 326.47,41.99A35.8,35.8 0 0 1 337.47,40.25Q337.50,76.05 357.90,48.23Z"/>
<path d="M360.94,50.74A34.5,34.5 0 0 1 363.68,53.58Q337.50,76.05 302.09,81.31A35.8,35.8 0 0 1 302.00,71.41Q337.50,76.05 360.94,50.74Z"/>
<path d="M363.68,53.58A34.5,34.5 0 0 1 366.07,56.71Q337.50,76.05 318.24,106.23A35.8,35.8 0 0 1 310.71,99.80Q337.50,76.05 363.68,53.58Z"/>
<path d="M366.07,56.71A34.5,34.5 0 0 1 368.09,60.09Q337.50,76.05 332.52,111.50A35.8,35.8 0 0 1 327.66,110.47Q337.50,76.05 366.07,56.71Z"/>
</g>
<g fill="#641799" fill-opacity="0.6" stroke="#641799" stroke-opacity="0.6" stroke-width="0.3">
<path d="M368.12,60.15A34.5,34.5 0 0 1 369.13,62.28Q337.50,76.05 323.66,43.03A35.8,35.8 0 0 1 325.03,42.49Q337.50,76.05 368.12,60.15Z"/>
<path d="M369.13,62.28A34.5,34.5 0 0 1 370.00,64.48Q337.50,76.05 313.94,49.09A35.8,35.8 0 0 1 314.99,48.21Q337.50,76.05 369.13,62.28Z"/>
<path d="M370.00,64.48A34.5,34.5 0 0 1 370.72,66.73Q337.50,76.05 303.48,64.90A35.8,35.8 0 0 1 304.03,63.34Q337.50,76.05 370.00,64.48Z"/>
<path d="M370.72,66.73A34.5,34.5 0 0 1 371.28,69.02Q337.50,76.05 307.11,94.97A35.8,35.8 0 0 1 306.11,93.26Q337.50,76.05 370.72,66.73Z"/>
</g>
<g fill="#007f78" fill-opacity="0.6" stroke="#007f78" stroke-opacity="0.6" stroke-width="0.3">
<path d="M371.29,69.08A34.5,34.5 0 0 1 371.74,71.80Q337.50,76.05 322.33,43.62A35.8,35.8 0 0 1 323.66,43.03Q337.50,76.05 371.29,69.08Z"/>
<path d="M371.74,71.80A34.5,34.5 0 0 1 371.97,74.55Q337.50,76.05 312.92,50.02A35.8,35.8 0 0 1 313.94,49.09Q337.50,76.05 371.74,71.80Z"/>
<path d="M371.97,74.55A34.5,34.5 0 0 1 371.98,77.30Q337.50,76.05 307.45,56.59A35.8,35.8 0 0 1 308.27,55.38Q337.50,76.05 371.97,74.55Z"/>
<path d="M371.98,77.30A34.5,34.5 0 0 1 371.77,80.05Q337.50,76.05 303.26,86.52A35.8,35.8 0 0 1 302.79,84.82Q337.50,76.05 371.98,77.30Z"/>
</g>
<g fill="#44d946" fill-opacity="0.6" stroke="#44d946" stroke-opacity="0.6" stroke-width="0.3">
<path d="M371.76,80.11A34.5,34.5 0 0 1 371.51,81.85Q337.50,76.05 321.01,44.27A35.8,35.8 0 0 1 322.33,43.62Q337.50,76.05 371.76,80.11Z"/>
<path d="M371.51,81.85A34.5,34.5 0 0 1 371.17,83.57Q337.50,76.05 311.94,50.98A35.8,35.8 0 0 1 312.92,50.02Q337.50,76.05 371.51,81.85Z"/>
<path d="M371.17,83.57A34.5,34.5 0 0 1 370.74,85.28Q337.50,76.05 306.68,57.84A35.8,35.8 0 0 1 307.45,56.59Q337.50,76.05 371.17,83.57Z"/>
<path d="M370.74,85.28A34.5,34.5 0 0 1 370.23,86.96Q337.50,76.05 303.00,66.48A35.8,35.8 0 0 1 303.48,64.90Q337.50,76.05 370.74,85.28Z"/>
<path d="M370.23,86.96A34.5,34.5 0 0 1 369.63,88.61Q337.50,76.05 323.74,109.10A35.8,35.8 0 0 1 321.87,108.26Q337.50,76.05 370.23,86.96Z"/>
</g>
<g fill="#99e6e6" fill-opacity="0.6" stroke="#99e6e6" stroke-opacity="0.6" stroke-width="0.3">
<path d="M369.61,88.67A34.5,34.5 0 0 1 368.71,90.76Q337.50,76.05 319.73,44.97A35.8,35.8 0 0 1 321.01,44.27Q337.50,76.05 369.61,88.67Z"/>
<path d="M368.71,90.76A34.5,34.5 0 0 1 367.67,92.78Q337.50,76.05 305.96,59.11A35.8,35.8 0 0 1 306.68,57.84Q337.50,76.05 368.71,90.76Z"/>
<path d="M367.67,92.78A34.5,34.5 0 0 1 366.50,94.74Q337.50,76.05 302.60,68.09A35.8,35.8 0 0 1 303.00,66.48Q337.50,76.05 367.67,92.78Z"/>
<path d="M366.50,94.74A34.5,34.5 0 0 1 365.20,96.61Q337.50,76.05 303.82,88.19A35.8,35.8 0 0 1 303.26,86.52Q337.50,76.05 366.50,94.74Z"/>
<path d="M365.20,96.61A34.5,34.5 0 0 1 363.79,98.39Q337.50,76.05 308.21,96.63A35.8,35.8 0 0 1 307.11,94.97Q337.50,76.05 365.20,96.61Z"/>
<path d="M363.79,98.39A34.5,34.5 0 0 1 362.25,100.08Q337.50,76.05 325.65,109.83A35.8,35.8 0 0 1 323.74,109.10Q337.50,76.05 363.79,98.39Z"/>
</g>
<g fill="#e93f96" fill-opacity="0.6" stroke="#e93f96" stroke-opacity="0.6" stroke-width="0.3">
<path d="M362.21,100.12A34.5,34.5 0 0 1 361.08,101.23Q337.50,76.05 318.47,45.73A35.8,35.8 0 0 1 319.73,44.97Q337.50,76.05 362.21,100.12Z"/>
<path d="M361.08,101.23A34.5,34.5 0 0 1 359.90,102.29Q337.50,76.05 311.00,51.98A35.8,35.8 0 0 1 311.94,50.98Q337.50,76.05 361.08,101.23Z"/>
<path d="M359.90,102.29A34.5,34.5 0 0 1 358.67,103.29Q337.50,76.05 305.29,60.42A35.8,35.8 0 0 1 305.96,59.11Q337.50,76.05 359.90,102.29Z"/>
<path d="M358.67,103.29A34.5,34.5 0 0 1 357.40,104.24Q337.50,76.05 302.27,69.71A35.8,35.8 0 0 1 302.60,68.09Q337.50,76.05 358.67,103.29Z"/>
<path d="M357.40,104.24A34.5,34.5 0 0 1 356.08,105.12Q337.50,76.05 304.46,89.83A35.8,35.8 0 0 1 303.82,88.19Q337.50,76.05 357.40,104.24Z"/>
<path d="M356.08,105.12A34.5,34.5 0 0 1 354.72,105.94Q337.50,76.05 309.39,98.22A35.8,35.8 0 0 1 308.21,96.63Q337.50,76.05 356.08,105.12Z"/>
</g>
<g fill="#bb7bed" fill-opacity="0.6" stroke="#bb7bed" stroke-opacity="0.6" stroke-width="0.3">
<path d="M354.67,105.97A34.5,34.5 0 0 1 352.45,107.14Q337.50,76.05 310.10,53.01A35.8,35.8 0 0 1 311.00,51.98Q337.50,76.05 354.67,105.97Z"/>
<path d="M352.45,107.14A34.5,34.5 0 0 1 350.14,108.15Q337.50,76.05 302.01,71.35A35.8,35.8 0 0 1 302.27,69.71Q337.50,76.05 352.45,107.14Z"/>
<path d="M350.14,108.15A34.5,34.5 0 0 1 347.77,108.98Q337.50,76.05 310.67,99.75A35.8,35.8 0 0 1 309.39,98.22Q337.50,76.05 350.14,108.15Z"/>
<path d="M347.77,108.98A34.5,34.5 0 0 1 345.35,109.65Q337.50,76.05 337.47,111.85A35.8,35.8 0 0 1 332.52,111.50Q337.50,76.05 347.77,108.98Z"/>
</g>
<g fill="#d9cfc8" fill-opacity="0.6" stroke="#d9cfc8" stroke-opacity="0.6" stroke-width="0.3">
<path d="M345.29,109.66A34.5,34.5 0 0 1 343.37,110.05Q337.50,76.05 317.25,46.53A35.8,35.8 0 0 1 318.47,45.73Q337.50,76.05 345.29,109.66Z"/>
<path d="M343.37,110.05A34.5,34.5 0 0 1 341.44,110.32Q337.50,76.05 304.68,61.75A35.8,35.8 0 0 1 305.29,60.42Q337.50,76.05 343.37,110.05Z"/>
<path d="M341.44,110.32A34.5,34.5 0 0 1 339.49,110.49Q337.50,76.05 305.17,91.43A35.8,35.8 0 0 1 304.46,89.83Q337.50,76.05 341.44,110.32Z"/>
<path d="M339.49,110.49A34.5,34.5 0 0 1 337.53,110.55Q337.50,76.05 327.60,110.45A35.8,35.8 0 0 1 325.65,109.83Q337.50,76.05 339.49,110.49Z"/>
</g>
<path d="M337.50,38.75A37.3,37.3 0 0 1 347.66,40.16L346.89,42.85A34.5,34.5 0 0 0 337.50,41.55Z" fill="#2e3a8c"/>
<path d="M347.66,40.16A37.3,37.3 0 0 1 359.53,45.95L357.88,48.21A34.5,34.5 0 0 0 346.89,42.85Z" fill="#d8161c"/>
<path d="M359.53,45.95A37.3,37.3 0 0 1 370.59,58.83L368.10,60.12A34.5,34.5 0 0 0 357.88,48.21Z" fill="#117a3e"/>
<path d="M370.59,58.83A37.3,37.3 0 0 1 374.03,68.49L371.28,69.05A34.5,34.5 0 0 0 368.10,60.12Z" fill="#4d0c7e"/>
<path d="M374.03,68.49A37.3,37.3 0 0 1 374.55,80.40L371.76,80.08A34.5,34.5 0 0 0 371.28,69.05Z" fill="#0f7a78"/>
<path d="M374.55,80.40A37.3,37.3 0 0 1 372.23,89.66L369.62,88.64A34.5,34.5 0 0 0 371.76,80.08Z" fill="#3fd03f"/>
<path d="M372.23,89.66A37.3,37.3 0 0 1 364.24,102.05L362.23,100.10A34.5,34.5 0 0 0 369.62,88.64Z" fill="#7ad2d2"/>
<path d="M364.24,102.05A37.3,37.3 0 0 1 356.09,108.39L354.70,105.96A34.5,34.5 0 0 0 362.23,100.10Z" fill="#e0307c"/>
<path d="M356.09,108.39A37.3,37.3 0 0 1 345.95,112.38L345.32,109.65A34.5,34.5 0 0 0 354.70,105.96Z" fill="#9a5ad0"/>
<path d="M345.95,112.38A37.3,37.3 0 0 1 337.50,113.35L337.50,110.55A34.5,34.5 0 0 0 345.32,109.65Z" fill="#c8bcb6"/>
<path d="M337.50,113.35A37.3,37.3 0 0 1 327.22,111.91L327.63,110.46A35.8,35.8 0 0 0 337.50,111.85Z" fill="#d8322a" stroke="#9a8c8a" stroke-width="0.25"/>
<path d="M327.22,111.91A37.3,37.3 0 0 1 317.46,107.51L318.26,106.24A35.8,35.8 0 0 0 327.63,110.46Z" fill="#d8322a" stroke="#9a8c8a" stroke-width="0.25"/>
<path d="M317.46,107.51A37.3,37.3 0 0 1 309.56,100.77L310.69,99.77A35.8,35.8 0 0 0 318.26,106.24Z" fill="#d8322a" stroke="#9a8c8a" stroke-width="0.25"/>
<path d="M309.56,100.77A37.3,37.3 0 0 1 303.83,92.11L305.19,91.46A35.8,35.8 0 0 0 310.69,99.77Z" fill="#d6c2c0" stroke="#9a8c8a" stroke-width="0.25"/>
<path d="M303.83,92.11A37.3,37.3 0 0 1 300.61,81.56L302.09,81.34A35.8,35.8 0 0 0 305.19,91.46Z" fill="#d6c2c0" stroke="#9a8c8a" stroke-width="0.25"/>
<path d="M300.61,81.56A37.3,37.3 0 0 1 300.52,71.18L302.01,71.38A35.8,35.8 0 0 0 302.09,81.34Z" fill="#d6c2c0" stroke="#9a8c8a" stroke-width="0.25"/>
<path d="M300.52,71.18A37.3,37.3 0 0 1 303.29,61.18L304.67,61.77A35.8,35.8 0 0 0 302.01,71.38Z" fill="#d6c2c0" stroke="#9a8c8a" stroke-width="0.25"/>
<path d="M303.29,61.18A37.3,37.3 0 0 1 308.93,52.07L310.08,53.04A35.8,35.8 0 0 0 304.67,61.77Z" fill="#d6c2c0" stroke="#9a8c8a" stroke-width="0.25"/>
<path d="M308.93,52.07A37.3,37.3 0 0 1 316.37,45.31L317.22,46.55A35.8,35.8 0 0 0 310.08,53.04Z" fill="#d6c2c0" stroke="#9a8c8a" stroke-width="0.25"/>
<path d="M316.37,45.31A37.3,37.3 0 0 1 325.97,40.58L326.44,42.00A35.8,35.8 0 0 0 317.22,46.55Z" fill="#d6c2c0" stroke="#9a8c8a" stroke-width="0.25"/>
<path d="M325.97,40.58A37.3,37.3 0 0 1 337.50,38.75L337.50,40.25A35.8,35.8 0 0 0 326.44,42.00Z" fill="#d6c2c0" stroke="#9a8c8a" stroke-width="0.25"/>
</g>
<g transform="translate(51.0 235.65) scale(1 1.0283) translate(-51.0 -235.65)">
<g fill="#3c4ba8" fill-opacity="0.6" stroke="#3c4ba8" stroke-opacity="0.6" stroke-width="0.3">
<path d="M51.03,201.35A34.300000000000004,34.300000000000004 0 0 1 53.74,201.46Q51.00,235.65 36.61,203.09A35.6,35.6 0 0 1 39.23,202.05Q51.00,235.65 51.03,201.35Z"/>
<path d="M53.74,201.46A34.300000000000004,34.300000000000004 0 0 1 56.44,201.78Q51.00,235.65 27.68,208.75A35.6,35.6 0 0 1 29.30,207.43Q51.00,235.65 53.74,201.46Z"/>
<path d="M56.44,201.78A34.300000000000004,34.300000000000004 0 0 1 59.11,202.32Q51.00,235.65 20.80,216.80A35.6,35.6 0 0 1 22.00,215.00Q51.00,235.65 56.44,201.78Z"/>
<path d="M59.11,202.32A34.300000000000004,34.300000000000004 0 0 1 61.72,203.07Q51.00,235.65 16.48,226.94A35.6,35.6 0 0 1 17.13,224.68Q51.00,235.65 59.11,202.32Z"/>
<path d="M61.72,203.07A34.300000000000004,34.300000000000004 0 0 1 64.26,204.02Q51.00,235.65 18.51,250.20A35.6,35.6 0 0 1 17.67,248.15Q51.00,235.65 61.72,203.07Z"/>
</g>
<g fill="#e90707" fill-opacity="0.6" stroke="#e90707" stroke-opacity="0.6" stroke-width="0.3">
<path d="M64.32,204.04A34.300000000000004,34.300000000000004 0 0 1 67.55,205.61Q51.00,235.65 34.08,204.33A35.6,35.6 0 0 1 36.61,203.09Q51.00,235.65 64.32,204.04Z"/>
<path d="M67.55,205.61A34.300000000000004,34.300000000000004 0 0 1 70.60,207.50Q51.00,235.65 26.13,210.18A35.6,35.6 0 0 1 27.68,208.75Q51.00,235.65 67.55,205.61Z"/>
<path d="M70.60,207.50A34.300000000000004,34.300000000000004 0 0 1 73.43,209.70Q51.00,235.65 19.71,218.67A35.6,35.6 0 0 1 20.80,216.80Q51.00,235.65 70.60,207.50Z"/>
<path d="M73.43,209.70A34.300000000000004,34.300000000000004 0 0 1 76.02,212.19Q51.00,235.65 19.48,252.20A35.6,35.6 0 0 1 18.51,250.20Q51.00,235.65 73.43,209.70Z"/>
</g>
<g fill="#008c3f" fill-opacity="0.6" stroke="#008c3f" stroke-opacity="0.6" stroke-width="0.3">
<path d="M76.07,212.24A34.300000000000004,34.300000000000004 0 0 1 78.46,215.10Q51.00,235.65 24.67,211.69A35.6,35.6 0 0 1 26.13,210.18Q51.00,235.65 76.07,212.24Z"/>
<path d="M78.46,215.10A34.300000000000004,34.300000000000004 0 0 1 80.53,218.20Q51.00,235.65 30.81,264.97A35.6,35.6 0 0 1 23.16,257.84Q51.00,235.65 78.46,215.10Z"/>
<path d="M80.53,218.20A34.300000000000004,34.300000000000004 0 0 1 82.25,221.51Q51.00,235.65 33.08,266.41A35.6,35.6 0 0 1 30.86,265.01Q51.00,235.65 80.53,218.20Z"/>
</g>
<g fill="#641799" fill-opacity="0.6" stroke="#641799" stroke-opacity="0.6" stroke-width="0.3">
<path d="M82.27,221.56A34.300000000000004,34.300000000000004 0 0 1 83.57,224.88Q51.00,235.65 31.66,205.76A35.6,35.6 0 0 1 34.08,204.33Q51.00,235.65 82.27,221.56Z"/>
<path d="M83.57,224.88A34.300000000000004,34.300000000000004 0 0 1 84.51,228.31Q51.00,235.65 18.74,220.60A35.6,35.6 0 0 1 19.71,218.67Q51.00,235.65 83.57,224.88Z"/>
<path d="M84.51,228.31A34.300000000000004,34.300000000000004 0 0 1 85.09,231.83Q51.00,235.65 15.98,229.23A35.6,35.6 0 0 1 16.48,226.94Q51.00,235.65 84.51,228.31Z"/>
<path d="M85.09,231.83A34.300000000000004,34.300000000000004 0 0 1 85.30,235.38Q51.00,235.65 20.58,254.14A35.6,35.6 0 0 1 19.48,252.20Q51.00,235.65 85.09,231.83Z"/>
</g>
<g fill="#007f78" fill-opacity="0.6" stroke="#007f78" stroke-opacity="0.6" stroke-width="0.3">
<path d="M85.30,235.44A34.300000000000004,34.300000000000004 0 0 1 85.23,237.85Q51.00,235.65 29.35,207.39A35.6,35.6 0 0 1 31.66,205.76Q51.00,235.65 85.30,235.44Z"/>
<path d="M85.23,237.85A34.300000000000004,34.300000000000004 0 0 1 84.99,240.26Q51.00,235.65 23.31,213.28A35.6,35.6 0 0 1 24.67,211.69Q51.00,235.65 85.23,237.85Z"/>
<path d="M84.99,240.26A34.300000000000004,34.300000000000004 0 0 1 84.58,242.63Q51.00,235.65 17.88,222.59A35.6,35.6 0 0 1 18.74,220.60Q51.00,235.65 84.99,240.26Z"/>
<path d="M84.58,242.63A34.300000000000004,34.300000000000004 0 0 1 84.01,244.98Q51.00,235.65 15.64,231.55A35.6,35.6 0 0 1 15.98,229.23Q51.00,235.65 84.58,242.63Z"/>
<path d="M84.01,244.98A34.300000000000004,34.300000000000004 0 0 1 83.27,247.28Q51.00,235.65 21.79,256.00A35.6,35.6 0 0 1 20.58,254.14Q51.00,235.65 84.01,244.98Z"/>
<path d="M83.27,247.28A34.300000000000004,34.300000000000004 0 0 1 82.37,249.52Q51.00,235.65 35.39,267.65A35.6,35.6 0 0 1 33.08,266.41Q51.00,235.65 83.27,247.28Z"/>
</g>
<g fill="#e9e611" fill-opacity="0.6" stroke="#e9e611" stroke-opacity="0.6" stroke-width="0.3">
<path d="M82.35,249.57A34.300000000000004,34.300000000000004 0 0 1 80.90,252.46Q51.00,235.65 15.44,233.89A35.6,35.6 0 0 1 15.64,231.55Q51.00,235.65 82.35,249.57Z"/>
<path d="M80.90,252.46A34.300000000000004,34.300000000000004 0 0 1 79.18,255.20Q51.00,235.65 23.12,257.79A35.6,35.6 0 0 1 21.79,256.00Q51.00,235.65 80.90,252.46Z"/>
</g>
<g fill="#5aa09d" fill-opacity="0.6" stroke="#5aa09d" stroke-opacity="0.6" stroke-width="0.3">
<path d="M79.15,255.25A34.300000000000004,34.300000000000004 0 0 1 77.43,257.51Q51.00,235.65 39.29,202.03A35.6,35.6 0 0 1 50.97,200.05Q51.00,235.65 79.15,255.25Z"/>
<path d="M77.43,257.51A34.300000000000004,34.300000000000004 0 0 1 75.53,259.63Q51.00,235.65 22.04,214.95A35.6,35.6 0 0 1 23.31,213.28Q51.00,235.65 77.43,257.51Z"/>
<path d="M75.53,259.63A34.300000000000004,34.300000000000004 0 0 1 73.46,261.58Q51.00,235.65 17.15,224.62A35.6,35.6 0 0 1 17.88,222.59Q51.00,235.65 75.53,259.63Z"/>
<path d="M73.46,261.58A34.300000000000004,34.300000000000004 0 0 1 71.23,263.35Q51.00,235.65 15.40,236.24A35.6,35.6 0 0 1 15.44,233.89Q51.00,235.65 73.46,261.58Z"/>
</g>
<g fill="#dce99d" fill-opacity="0.6" stroke="#dce99d" stroke-opacity="0.6" stroke-width="0.3">
<path d="M71.19,263.38A34.300000000000004,34.300000000000004 0 0 1 68.07,265.40Q51.00,235.65 37.79,268.71A35.6,35.6 0 0 1 35.39,267.65Q51.00,235.65 71.19,263.38Z"/>
<path d="M68.07,265.40A34.300000000000004,34.300000000000004 0 0 1 64.76,267.07Q51.00,235.65 43.81,270.52A35.6,35.6 0 0 1 40.32,269.61Q51.00,235.65 68.07,265.40Z"/>
</g>
<g fill="#d2d2e9" fill-opacity="0.6" stroke="#d2d2e9" stroke-opacity="0.6" stroke-width="0.3">
<path d="M64.70,267.09A34.300000000000004,34.300000000000004 0 0 1 61.49,268.31Q51.00,235.65 40.27,269.59A35.6,35.6 0 0 1 37.79,268.71Q51.00,235.65 64.70,267.09Z"/>
<path d="M61.49,268.31A34.300000000000004,34.300000000000004 0 0 1 58.16,269.19Q51.00,235.65 47.37,271.06A35.6,35.6 0 0 1 43.81,270.52Q51.00,235.65 61.49,268.31Z"/>
</g>
<g fill="#f3b47f" fill-opacity="0.6" stroke="#f3b47f" stroke-opacity="0.6" stroke-width="0.3">
<path d="M58.10,269.21A34.300000000000004,34.300000000000004 0 0 1 54.59,269.76Q51.00,235.65 17.64,248.09A35.6,35.6 0 0 1 15.41,236.30Q51.00,235.65 58.10,269.21Z"/>
<path d="M54.59,269.76A34.300000000000004,34.300000000000004 0 0 1 51.03,269.95Q51.00,235.65 50.97,271.25A35.6,35.6 0 0 1 47.37,271.06Q51.00,235.65 54.59,269.76Z"/>
</g>
<path d="M51.00,198.55A37.1,37.1 0 0 1 65.38,201.45L64.29,204.03A34.300000000000004,34.300000000000004 0 0 0 51.00,201.35Z" fill="#2e3a8c"/>
<path d="M65.38,201.45A37.1,37.1 0 0 1 78.09,210.30L76.04,212.21A34.300000000000004,34.300000000000004 0 0 0 64.29,204.03Z" fill="#d8161c"/>
<path d="M78.09,210.30A37.1,37.1 0 0 1 84.81,220.38L82.26,221.54A34.300000000000004,34.300000000000004 0 0 0 76.04,212.21Z" fill="#117a3e"/>
<path d="M84.81,220.38A37.1,37.1 0 0 1 88.10,235.39L85.30,235.41A34.300000000000004,34.300000000000004 0 0 0 82.26,221.54Z" fill="#4d0c7e"/>
<path d="M88.10,235.39A37.1,37.1 0 0 1 84.92,250.68L82.36,249.55A34.300000000000004,34.300000000000004 0 0 0 85.30,235.41Z" fill="#0f7a78"/>
<path d="M84.92,250.68A37.1,37.1 0 0 1 81.46,256.82L79.17,255.23A34.300000000000004,34.300000000000004 0 0 0 82.36,249.55Z" fill="#e6e62a"/>
<path d="M81.46,256.82A37.1,37.1 0 0 1 72.86,265.63L71.21,263.36A34.300000000000004,34.300000000000004 0 0 0 79.17,255.23Z" fill="#5f9c9a"/>
<path d="M72.86,265.63A37.1,37.1 0 0 1 65.85,269.65L64.73,267.08A34.300000000000004,34.300000000000004 0 0 0 71.21,263.36Z" fill="#d6e688"/>
<path d="M65.85,269.65A37.1,37.1 0 0 1 58.71,271.94L58.13,269.20A34.300000000000004,34.300000000000004 0 0 0 64.73,267.08Z" fill="#c4c4de"/>
<path d="M58.71,271.94A37.1,37.1 0 0 1 51.00,272.75L51.00,269.95A34.300000000000004,34.300000000000004 0 0 0 58.13,269.20Z" fill="#e8b07e"/>
<path d="M51.00,272.75A37.1,37.1 0 0 1 39.84,271.03L40.29,269.60A35.6,35.6 0 0 0 51.00,271.25Z" fill="#d8322a" stroke="#9a8c8a" stroke-width="0.25"/>
<path d="M39.84,271.03A37.1,37.1 0 0 1 29.99,266.23L30.84,264.99A35.6,35.6 0 0 0 40.29,269.60Z" fill="#d8322a" stroke="#9a8c8a" stroke-width="0.25"/>
<path d="M29.99,266.23A37.1,37.1 0 0 1 21.97,258.75L23.14,257.81A35.6,35.6 0 0 0 30.84,264.99Z" fill="#d8322a" stroke="#9a8c8a" stroke-width="0.25"/>
<path d="M21.97,258.75A37.1,37.1 0 0 1 16.25,248.64L17.65,248.12A35.6,35.6 0 0 0 23.14,257.81Z" fill="#d8322a" stroke="#9a8c8a" stroke-width="0.25"/>
<path d="M16.25,248.64A37.1,37.1 0 0 1 13.91,236.30L15.41,236.27A35.6,35.6 0 0 0 17.65,248.12Z" fill="#d6c2c0" stroke="#9a8c8a" stroke-width="0.25"/>
<path d="M13.91,236.30A37.1,37.1 0 0 1 15.72,224.19L17.14,224.65A35.6,35.6 0 0 0 15.41,236.27Z" fill="#d6c2c0" stroke="#9a8c8a" stroke-width="0.25"/>
<path d="M15.72,224.19A37.1,37.1 0 0 1 20.80,214.11L22.02,214.98A35.6,35.6 0 0 0 17.14,224.65Z" fill="#d6c2c0" stroke="#9a8c8a" stroke-width="0.25"/>
<path d="M20.80,214.11A37.1,37.1 0 0 1 28.41,206.22L29.33,207.41A35.6,35.6 0 0 0 22.02,214.98Z" fill="#d6c2c0" stroke="#9a8c8a" stroke-width="0.25"/>
<path d="M28.41,206.22A37.1,37.1 0 0 1 38.77,200.62L39.26,202.04A35.6,35.6 0 0 0 29.33,207.41Z" fill="#d6c2c0" stroke="#9a8c8a" stroke-width="0.25"/>
<path d="M38.77,200.62A37.1,37.1 0 0 1 51.00,198.55L51.00,200.05A35.6,35.6 0 0 0 39.26,202.04Z" fill="#d6c2c0" stroke="#9a8c8a" stroke-width="0.25"/>
</g>
<g transform="translate(339.2 238.3) scale(1 1.0340) translate(-339.2 -238.3)">
<g fill="#3c4ba8" fill-opacity="0.6" stroke="#3c4ba8" stroke-opacity="0.6" stroke-width="0.3">
<path d="M339.23,202.90A35.400000000000006,35.400000000000006 0 0 1 341.19,202.96Q339.20,238.30 337.56,201.64A36.7,36.7 0 0 1 339.17,201.60Q339.20,238.30 339.23,202.90Z"/>
<path d="M341.19,202.96A35.400000000000006,35.400000000000006 0 0 1 343.15,203.12Q339.20,238.30 328.33,203.25A36.7,36.7 0 0 1 329.58,202.88Q339.20,238.30 341.19,202.96Z"/>
<path d="M343.15,203.12A35.400000000000006,35.400000000000006 0 0 1 345.09,203.39Q339.20,238.30 319.69,207.22A36.7,36.7 0 0 1 321.10,206.37Q339.20,238.30 343.15,203.12Z"/>
<path d="M345.09,203.39A35.400000000000006,35.400000000000006 0 0 1 347.02,203.77Q339.20,238.30 312.27,213.37A36.7,36.7 0 0 1 313.23,212.37Q339.20,238.30 345.09,203.39Z"/>
<path d="M347.02,203.77A35.400000000000006,35.400000000000006 0 0 1 348.92,204.26Q339.20,238.30 306.70,221.24A36.7,36.7 0 0 1 307.34,220.09Q339.20,238.30 347.02,203.77Z"/>
<path d="M348.92,204.26A35.400000000000006,35.400000000000006 0 0 1 350.79,204.85Q339.20,238.30 302.56,240.48A36.7,36.7 0 0 1 302.50,238.65Q339.20,238.30 348.92,204.26Z"/>
<path d="M350.79,204.85A35.400000000000006,35.400000000000006 0 0 1 352.63,205.55Q339.20,238.30 304.82,251.14A36.7,36.7 0 0 1 304.25,249.49Q339.20,238.30 350.79,204.85Z"/>
<path d="M352.63,205.55A35.400000000000006,35.400000000000006 0 0 1 354.42,206.34Q339.20,238.30 309.65,260.07A36.7,36.7 0 0 1 308.86,258.95Q339.20,238.30 352.63,205.55Z"/>
<path d="M354.42,206.34A35.400000000000006,35.400000000000006 0 0 1 356.17,207.23Q339.20,238.30 316.38,267.04A36.7,36.7 0 0 1 315.27,266.12Q339.20,238.30 354.42,206.34Z"/>
</g>
<g fill="#e90707" fill-opacity="0.6" stroke="#e90707" stroke-opacity="0.6" stroke-width="0.3">
<path d="M356.23,207.26A35.400000000000006,35.400000000000006 0 0 1 357.92,208.25Q339.20,238.30 335.96,201.74A36.7,36.7 0 0 1 337.56,201.64Q339.20,238.30 356.23,207.26Z"/>
<path d="M357.92,208.25A35.400000000000006,35.400000000000006 0 0 1 359.56,209.34Q339.20,238.30 327.09,203.66A36.7,36.7 0 0 1 328.33,203.25Q339.20,238.30 357.92,208.25Z"/>
<path d="M359.56,209.34A35.400000000000006,35.400000000000006 0 0 1 361.13,210.51Q339.20,238.30 318.32,208.12A36.7,36.7 0 0 1 319.69,207.22Q339.20,238.30 359.56,209.34Z"/>
<path d="M361.13,210.51A35.400000000000006,35.400000000000006 0 0 1 362.63,211.77Q339.20,238.30 311.35,214.40A36.7,36.7 0 0 1 312.27,213.37Q339.20,238.30 361.13,210.51Z"/>
<path d="M362.63,211.77A35.400000000000006,35.400000000000006 0 0 1 364.07,213.11Q339.20,238.30 306.11,222.42A36.7,36.7 0 0 1 306.70,221.24Q339.20,238.30 362.63,211.77Z"/>
<path d="M364.07,213.11A35.400000000000006,35.400000000000006 0 0 1 365.42,214.52Q339.20,238.30 302.72,242.30A36.7,36.7 0 0 1 302.56,240.48Q339.20,238.30 364.07,213.11Z"/>
<path d="M365.42,214.52A35.400000000000006,35.400000000000006 0 0 1 366.70,216.01Q339.20,238.30 310.49,261.16A36.7,36.7 0 0 1 309.65,260.07Q339.20,238.30 365.42,214.52Z"/>
<path d="M366.70,216.01A35.400000000000006,35.400000000000006 0 0 1 367.89,217.57Q339.20,238.30 317.52,267.92A36.7,36.7 0 0 1 316.38,267.04Q339.20,238.30 366.70,216.01Z"/>
</g>
<g fill="#008c3f" fill-opacity="0.6" stroke="#008c3f" stroke-opacity="0.6" stroke-width="0.3">
<path d="M367.93,217.62A35.400000000000006,35.400000000000006 0 0 1 368.96,219.13Q339.20,238.30 334.36,201.92A36.7,36.7 0 0 1 335.96,201.74Q339.20,238.30 367.93,217.62Z"/>
<path d="M368.96,219.13A35.400000000000006,35.400000000000006 0 0 1 369.91,220.69Q339.20,238.30 325.86,204.11A36.7,36.7 0 0 1 327.09,203.66Q339.20,238.30 368.96,219.13Z"/>
<path d="M369.91,220.69A35.400000000000006,35.400000000000006 0 0 1 370.77,222.29Q339.20,238.30 316.99,209.09A36.7,36.7 0 0 1 318.32,208.12Q339.20,238.30 369.91,220.69Z"/>
<path d="M370.77,222.29A35.400000000000006,35.400000000000006 0 0 1 371.56,223.94Q339.20,238.30 310.47,215.46A36.7,36.7 0 0 1 311.35,214.40Q339.20,238.30 370.77,222.29Z"/>
<path d="M371.56,223.94A35.400000000000006,35.400000000000006 0 0 1 372.25,225.63Q339.20,238.30 305.56,223.62A36.7,36.7 0 0 1 306.11,222.42Q339.20,238.30 371.56,223.94Z"/>
<path d="M372.25,225.63A35.400000000000006,35.400000000000006 0 0 1 372.86,227.35Q339.20,238.30 302.96,244.10A36.7,36.7 0 0 1 302.72,242.30Q339.20,238.30 372.25,225.63Z"/>
<path d="M372.86,227.35A35.400000000000006,35.400000000000006 0 0 1 373.38,229.10Q339.20,238.30 305.47,252.77A36.7,36.7 0 0 1 304.82,251.14Q339.20,238.30 372.86,227.35Z"/>
<path d="M373.38,229.10A35.400000000000006,35.400000000000006 0 0 1 373.81,230.88Q339.20,238.30 311.36,262.21A36.7,36.7 0 0 1 310.49,261.16Q339.20,238.30 373.38,229.10Z"/>
<path d="M373.81,230.88A35.400000000000006,35.400000000000006 0 0 1 374.15,232.67Q339.20,238.30 318.70,268.74A36.7,36.7 0 0 1 317.52,267.92Q339.20,238.30 373.81,230.88Z"/>
</g>
<g fill="#641799" fill-opacity="0.6" stroke="#641799" stroke-opacity="0.6" stroke-width="0.3">
<path d="M374.16,232.73A35.400000000000006,35.400000000000006 0 0 1 374.39,234.49Q339.20,238.30 324.66,204.60A36.7,36.7 0 0 1 325.86,204.11Q339.20,238.30 374.16,232.73Z"/>
<path d="M374.39,234.49A35.400000000000006,35.400000000000006 0 0 1 374.54,236.25Q339.20,238.30 309.63,216.56A36.7,36.7 0 0 1 310.47,215.46Q339.20,238.30 374.39,234.49Z"/>
<path d="M374.54,236.25A35.400000000000006,35.400000000000006 0 0 1 374.60,238.02Q339.20,238.30 305.06,224.84A36.7,36.7 0 0 1 305.56,223.62Q339.20,238.30 374.54,236.25Z"/>
<path d="M374.60,238.02A35.400000000000006,35.400000000000006 0 0 1 374.57,239.79Q339.20,238.30 303.30,245.90A36.7,36.7 0 0 1 302.96,244.10Q339.20,238.30 374.60,238.02Z"/>
<path d="M374.57,239.79A35.400000000000006,35.400000000000006 0 0 1 374.45,241.56Q339.20,238.30 306.20,254.36A36.7,36.7 0 0 1 305.47,252.77Q339.20,238.30 374.57,239.79Z"/>
<path d="M374.45,241.56A35.400000000000006,35.400000000000006 0 0 1 374.24,243.32Q339.20,238.30 312.27,263.23A36.7,36.7 0 0 1 311.36,262.21Q339.20,238.30 374.45,241.56Z"/>
</g>
<g fill="#007f78" fill-opacity="0.6" stroke="#007f78" stroke-opacity="0.6" stroke-width="0.3">
<path d="M374.23,243.38A35.400000000000006,35.400000000000006 0 0 1 373.82,245.69Q339.20,238.30 315.70,210.11A36.7,36.7 0 0 1 316.99,209.09Q339.20,238.30 374.23,243.38Z"/>
<path d="M373.82,245.69A35.400000000000006,35.400000000000006 0 0 1 373.25,247.97Q339.20,238.30 307.00,255.91A36.7,36.7 0 0 1 306.20,254.36Q339.20,238.30 373.82,245.69Z"/>
<path d="M373.25,247.97A35.400000000000006,35.400000000000006 0 0 1 372.54,250.20Q339.20,238.30 330.66,273.99A36.7,36.7 0 0 1 322.48,270.97Q339.20,238.30 373.25,247.97Z"/>
<path d="M372.54,250.20A35.400000000000006,35.400000000000006 0 0 1 371.68,252.39Q339.20,238.30 334.92,274.75A36.7,36.7 0 0 1 330.73,274.01Q339.20,238.30 372.54,250.20Z"/>
</g>
<g fill="#f0f5b4" fill-opacity="0.6" stroke="#f0f5b4" stroke-opacity="0.6" stroke-width="0.3">
<path d="M371.65,252.44A35.400000000000006,35.400000000000006 0 0 1 371.09,253.66Q339.20,238.30 332.77,202.17A36.7,36.7 0 0 1 334.36,201.92Q339.20,238.30 371.65,252.44Z"/>
<path d="M371.09,253.66A35.400000000000006,35.400000000000006 0 0 1 370.49,254.86Q339.20,238.30 323.47,205.14A36.7,36.7 0 0 1 324.66,204.60Q339.20,238.30 371.09,253.66Z"/>
<path d="M370.49,254.86A35.400000000000006,35.400000000000006 0 0 1 369.84,256.03Q339.20,238.30 314.46,211.19A36.7,36.7 0 0 1 315.70,210.11Q339.20,238.30 370.49,254.86Z"/>
<path d="M369.84,256.03A35.400000000000006,35.400000000000006 0 0 1 369.15,257.17Q339.20,238.30 308.83,217.69A36.7,36.7 0 0 1 309.63,216.56Q339.20,238.30 369.84,256.03Z"/>
<path d="M369.15,257.17A35.400000000000006,35.400000000000006 0 0 1 368.41,258.29Q339.20,238.30 304.60,226.07A36.7,36.7 0 0 1 305.06,224.84Q339.20,238.30 369.15,257.17Z"/>
<path d="M368.41,258.29A35.400000000000006,35.400000000000006 0 0 1 367.64,259.38Q339.20,238.30 303.72,247.67A36.7,36.7 0 0 1 303.30,245.90Q339.20,238.30 368.41,258.29Z"/>
<path d="M367.64,259.38A35.400000000000006,35.400000000000006 0 0 1 366.82,260.44Q339.20,238.30 307.88,257.43A36.7,36.7 0 0 1 307.00,255.91Q339.20,238.30 367.64,259.38Z"/>
<path d="M366.82,260.44A35.400000000000006,35.400000000000006 0 0 1 365.96,261.47Q339.20,238.30 313.22,264.22A36.7,36.7 0 0 1 312.27,263.23Q339.20,238.30 366.82,260.44Z"/>
<path d="M365.96,261.47A35.400000000000006,35.400000000000006 0 0 1 365.07,262.47Q339.20,238.30 319.92,269.52A36.7,36.7 0 0 1 318.70,268.74Q339.20,238.30 365.96,261.47Z"/>
</g>
<g fill="#f3c5d5" fill-opacity="0.6" stroke="#f3c5d5" stroke-opacity="0.6" stroke-width="0.3">
<path d="M365.03,262.51A35.400000000000006,35.400000000000006 0 0 1 363.93,263.62Q339.20,238.30 322.30,205.72A36.7,36.7 0 0 1 323.47,205.14Q339.20,238.30 365.03,262.51Z"/>
<path d="M363.93,263.62A35.400000000000006,35.400000000000006 0 0 1 362.80,264.69Q339.20,238.30 308.08,218.85A36.7,36.7 0 0 1 308.83,217.69Q339.20,238.30 363.93,263.62Z"/>
<path d="M362.80,264.69A35.400000000000006,35.400000000000006 0 0 1 361.61,265.70Q339.20,238.30 308.83,258.90A36.7,36.7 0 0 1 307.88,257.43Q339.20,238.30 362.80,264.69Z"/>
<path d="M361.61,265.70A35.400000000000006,35.400000000000006 0 0 1 360.38,266.66Q339.20,238.30 314.20,265.17A36.7,36.7 0 0 1 313.22,264.22Q339.20,238.30 361.61,265.70Z"/>
</g>
<g fill="#cbe961" fill-opacity="0.6" stroke="#cbe961" stroke-opacity="0.6" stroke-width="0.3">
<path d="M360.33,266.70A35.400000000000006,35.400000000000006 0 0 1 359.29,267.45Q339.20,238.30 331.20,202.48A36.7,36.7 0 0 1 332.77,202.17Q339.20,238.30 360.33,266.70Z"/>
<path d="M359.29,267.45A35.400000000000006,35.400000000000006 0 0 1 358.22,268.16Q339.20,238.30 313.27,212.33A36.7,36.7 0 0 1 314.46,211.19Q339.20,238.30 359.29,267.45Z"/>
<path d="M358.22,268.16A35.400000000000006,35.400000000000006 0 0 1 357.12,268.83Q339.20,238.30 304.18,227.32A36.7,36.7 0 0 1 304.60,226.07Q339.20,238.30 358.22,268.16Z"/>
<path d="M357.12,268.83A35.400000000000006,35.400000000000006 0 0 1 356.00,269.46Q339.20,238.30 315.22,266.08A36.7,36.7 0 0 1 314.20,265.17Q339.20,238.30 357.12,268.83Z"/>
<path d="M356.00,269.46A35.400000000000006,35.400000000000006 0 0 1 354.86,270.05Q339.20,238.30 321.16,270.26A36.7,36.7 0 0 1 319.92,269.52Q339.20,238.30 356.00,269.46Z"/>
</g>
<g fill="#2bb467" fill-opacity="0.6" stroke="#2bb467" stroke-opacity="0.6" stroke-width="0.3">
<path d="M354.80,270.08A35.400000000000006,35.400000000000006 0 0 1 353.27,270.78Q339.20,238.30 321.16,206.34A36.7,36.7 0 0 1 322.30,205.72Q339.20,238.30 354.80,270.08Z"/>
<path d="M353.27,270.78A35.400000000000006,35.400000000000006 0 0 1 351.71,271.41Q339.20,238.30 307.37,220.03A36.7,36.7 0 0 1 308.08,218.85Q339.20,238.30 353.27,270.78Z"/>
<path d="M351.71,271.41A35.400000000000006,35.400000000000006 0 0 1 350.12,271.97Q339.20,238.30 303.81,228.58A36.7,36.7 0 0 1 304.18,227.32Q339.20,238.30 351.71,271.41Z"/>
<path d="M350.12,271.97A35.400000000000006,35.400000000000006 0 0 1 348.51,272.45Q339.20,238.30 339.17,275.00A36.7,36.7 0 0 1 334.92,274.75Q339.20,238.30 350.12,271.97Z"/>
</g>
<g fill="#e3cae9" fill-opacity="0.6" stroke="#e3cae9" stroke-opacity="0.6" stroke-width="0.3">
<path d="M348.45,272.47A35.400000000000006,35.400000000000006 0 0 1 346.18,273.00Q339.20,238.30 329.64,202.87A36.7,36.7 0 0 1 331.20,202.48Q339.20,238.30 348.45,272.47Z"/>
<path d="M346.18,273.00A35.400000000000006,35.400000000000006 0 0 1 343.88,273.39Q339.20,238.30 302.50,238.59A36.7,36.7 0 0 1 303.79,228.65Q339.20,238.30 346.18,273.00Z"/>
<path d="M343.88,273.39A35.400000000000006,35.400000000000006 0 0 1 341.56,273.62Q339.20,238.30 304.23,249.43A36.7,36.7 0 0 1 303.72,247.67Q339.20,238.30 343.88,273.39Z"/>
<path d="M341.56,273.62A35.400000000000006,35.400000000000006 0 0 1 339.23,273.70Q339.20,238.30 322.42,270.94A36.7,36.7 0 0 1 321.16,270.26Q339.20,238.30 341.56,273.62Z"/>
</g>
<path d="M339.20,200.10A38.2,38.2 0 0 1 357.54,204.79L356.20,207.25A35.400000000000006,35.400000000000006 0 0 0 339.20,202.90Z" fill="#2e3a8c"/>
<path d="M357.54,204.79A38.2,38.2 0 0 1 370.18,215.95L367.91,217.59A35.400000000000006,35.400000000000006 0 0 0 356.20,207.25Z" fill="#d8161c"/>
<path d="M370.18,215.95A38.2,38.2 0 0 1 376.92,232.26L374.15,232.70A35.400000000000006,35.400000000000006 0 0 0 367.91,217.59Z" fill="#117a3e"/>
<path d="M376.92,232.26A38.2,38.2 0 0 1 377.01,243.75L374.24,243.35A35.400000000000006,35.400000000000006 0 0 0 374.15,232.70Z" fill="#4d0c7e"/>
<path d="M377.01,243.75A38.2,38.2 0 0 1 374.23,253.53L371.66,252.42A35.400000000000006,35.400000000000006 0 0 0 374.24,243.35Z" fill="#0f7a78"/>
<path d="M374.23,253.53A38.2,38.2 0 0 1 367.09,264.40L365.05,262.49A35.400000000000006,35.400000000000006 0 0 0 371.66,252.42Z" fill="#e6f0a0"/>
<path d="M367.09,264.40A38.2,38.2 0 0 1 362.03,268.93L360.36,266.68A35.400000000000006,35.400000000000006 0 0 0 365.05,262.49Z" fill="#e8a8bc"/>
<path d="M362.03,268.93A38.2,38.2 0 0 1 356.07,272.58L354.83,270.06A35.400000000000006,35.400000000000006 0 0 0 360.36,266.68Z" fill="#b6e030"/>
<path d="M356.07,272.58A38.2,38.2 0 0 1 349.22,275.16L348.48,272.46A35.400000000000006,35.400000000000006 0 0 0 354.83,270.06Z" fill="#3cae60"/>
<path d="M349.22,275.16A38.2,38.2 0 0 1 339.20,276.50L339.20,273.70A35.400000000000006,35.400000000000006 0 0 0 348.48,272.46Z" fill="#d6bce0"/>
<path d="M339.20,276.50A38.2,38.2 0 0 1 330.35,275.46L330.69,274.00A36.7,36.7 0 0 0 339.20,275.00Z" fill="#d8322a" stroke="#9a8c8a" stroke-width="0.25"/>
<path d="M330.35,275.46A38.2,38.2 0 0 1 321.77,272.29L322.45,270.96A36.7,36.7 0 0 0 330.69,274.00Z" fill="#d8322a" stroke="#9a8c8a" stroke-width="0.25"/>
<path d="M321.77,272.29A38.2,38.2 0 0 1 314.26,267.24L315.24,266.10A36.7,36.7 0 0 0 322.45,270.96Z" fill="#d8322a" stroke="#9a8c8a" stroke-width="0.25"/>
<path d="M314.26,267.24A38.2,38.2 0 0 1 307.61,259.77L308.85,258.93A36.7,36.7 0 0 0 315.24,266.10Z" fill="#d8322a" stroke="#9a8c8a" stroke-width="0.25"/>
<path d="M307.61,259.77A38.2,38.2 0 0 1 302.81,249.91L304.24,249.46A36.7,36.7 0 0 0 308.85,258.93Z" fill="#d6c2c0" stroke="#9a8c8a" stroke-width="0.25"/>
<path d="M302.81,249.91A38.2,38.2 0 0 1 301.00,238.63L302.50,238.62A36.7,36.7 0 0 0 304.24,249.46Z" fill="#d6c2c0" stroke="#9a8c8a" stroke-width="0.25"/>
<path d="M301.00,238.63A38.2,38.2 0 0 1 302.35,228.22L303.80,228.62A36.7,36.7 0 0 0 302.50,238.62Z" fill="#d6c2c0" stroke="#9a8c8a" stroke-width="0.25"/>
<path d="M302.35,228.22A38.2,38.2 0 0 1 306.05,219.32L307.35,220.06A36.7,36.7 0 0 0 303.80,228.62Z" fill="#d6c2c0" stroke="#9a8c8a" stroke-width="0.25"/>
<path d="M306.05,219.32A38.2,38.2 0 0 1 312.19,211.29L313.25,212.35A36.7,36.7 0 0 0 307.35,220.06Z" fill="#d6c2c0" stroke="#9a8c8a" stroke-width="0.25"/>
<path d="M312.19,211.29A38.2,38.2 0 0 1 320.39,205.05L321.13,206.36A36.7,36.7 0 0 0 313.25,212.35Z" fill="#d6c2c0" stroke="#9a8c8a" stroke-width="0.25"/>
<path d="M320.39,205.05A38.2,38.2 0 0 1 329.22,201.43L329.61,202.88A36.7,36.7 0 0 0 321.13,206.36Z" fill="#d6c2c0" stroke="#9a8c8a" stroke-width="0.25"/>
<path d="M329.22,201.43A38.2,38.2 0 0 1 339.20,200.10L339.20,201.60A36.7,36.7 0 0 0 329.61,202.88Z" fill="#d6c2c0" stroke="#9a8c8a" stroke-width="0.25"/>
</g>
</svg>
<div class="lb" style="transform:translate(62.37px,38.87px) rotate(-78.40deg) scale(0.1) translateY(calc(-50% + 6px))">GO:0072593</div>
<div class="lb" style="transform:translate(74.12px,43.52px) rotate(-59.40deg) scale(0.1) translateY(calc(-50% + 6px))">GO:0042554</div>
<div class="lb" style="transform:translate(82.85px,50.79px) rotate(-42.45deg) scale(0.1) translateY(calc(-50% + 6px))">GO:0002224</div>
<div class="lb" style="transform:translate(89.18px,60.45px) rotate(-25.35deg) scale(0.1) translateY(calc(-50% + 6px))">GO:0006801</div>
<div class="lb" style="transform:translate(92.45px,71.52px) rotate(-8.35deg) scale(0.1) translateY(calc(-50% + 6px))">GO:0002221</div>
<div class="lb" style="transform:translate(92.51px,82.38px) rotate(7.60deg) scale(0.1) translateY(calc(-50% + 6px))">GO:0045730</div>
<div class="lb" style="transform:translate(89.39px,93.49px) rotate(24.60deg) scale(0.1) translateY(calc(-50% + 6px))">GO:0050900</div>
<div class="lb" style="transform:translate(82.21px,104.31px) rotate(43.85deg) scale(0.1) translateY(calc(-50% + 6px))">GO:0002758</div>
<div class="lb" style="transform:translate(72.29px,111.93px) rotate(62.55deg) scale(0.1) translateY(calc(-50% + 6px))">GO:0002218</div>
<div class="lb" style="transform:translate(60.50px,115.88px) rotate(81.25deg) scale(0.1) translateY(calc(-50% + 6px))">GO:0032103</div>
<div class="lb lg2" style="transform:translate(50.71px,116.12px) rotate(-84.00deg) scale(0.1) translate(-100%,calc(-50% + 6px))">S100A9</div>
<div class="lb lg2" style="transform:translate(42.59px,114.31px) rotate(-71.50deg) scale(0.1) translate(-100%,calc(-50% + 6px))">CXCL8</div>
<div class="lb lg2" style="transform:translate(34.62px,110.48px) rotate(-58.25deg) scale(0.1) translate(-100%,calc(-50% + 6px))">S100A8</div>
<div class="lb lg2" style="transform:translate(27.96px,105.11px) rotate(-45.50deg) scale(0.1) translate(-100%,calc(-50% + 6px))">CYBB</div>
<div class="lb lg2" style="transform:translate(22.89px,98.80px) rotate(-33.50deg) scale(0.1) translate(-100%,calc(-50% + 6px))">NCF1</div>
<div class="lb lg2" style="transform:translate(19.02px,91.06px) rotate(-20.75deg) scale(0.1) translate(-100%,calc(-50% + 6px))">ICAM1</div>
<div class="lb lg2" style="transform:translate(16.88px,82.31px) rotate(-7.50deg) scale(0.1) translate(-100%,calc(-50% + 6px))">MACF</div>
<div class="lb lg2" style="transform:translate(16.73px,73.45px) rotate(5.50deg) scale(0.1) translate(-100%,calc(-50% + 6px))">FPR1</div>
<div class="lb lg2" style="transform:translate(18.63px,64.46px) rotate(19.00deg) scale(0.1) translate(-100%,calc(-50% + 6px))">CCR1</div>
<div class="lb lg2" style="transform:translate(22.44px,56.32px) rotate(32.25deg) scale(0.1) translate(-100%,calc(-50% + 6px))">TLR2</div>
<div class="lb lg2" style="transform:translate(27.43px,49.83px) rotate(44.38deg) scale(0.1) translate(-100%,calc(-50% + 6px))">NCF2</div>
<div class="lb lg2" style="transform:translate(33.78px,44.48px) rotate(56.75deg) scale(0.1) translate(-100%,calc(-50% + 6px))">CYBA</div>
<div class="lb lg2" style="transform:translate(41.57px,40.46px) rotate(69.88deg) scale(0.1) translate(-100%,calc(-50% + 6px))">SYK</div>
<div class="lb lg2" style="transform:translate(50.22px,38.34px) rotate(83.25deg) scale(0.1) translate(-100%,calc(-50% + 6px))">FGR</div>
<div class="lb" style="transform:translate(342.79px,37.05px) rotate(-82.10deg) scale(0.1) translateY(calc(-50% + 6px))">GO:0043020</div>
<div class="lb" style="transform:translate(354.38px,40.66px) rotate(-64.00deg) scale(0.1) translateY(calc(-50% + 6px))">GO:0045335</div>
<div class="lb" style="transform:translate(366.71px,50.40px) rotate(-40.65deg) scale(0.1) translateY(calc(-50% + 6px))">GO:0009897</div>
<div class="lb" style="transform:translate(373.77px,62.84px) rotate(-19.60deg) scale(0.1) translateY(calc(-50% + 6px))">GO:0070821</div>
<div class="lb" style="transform:translate(375.96px,74.33px) rotate(-2.50deg) scale(0.1) translateY(calc(-50% + 6px))">GO:0035579</div>
<div class="lb" style="transform:translate(374.85px,85.61px) rotate(14.05deg) scale(0.1) translateY(calc(-50% + 6px))">GO:1990204</div>
<div class="lb" style="transform:translate(369.86px,97.38px) rotate(32.80deg) scale(0.1) translateY(calc(-50% + 6px))">GO:0030139</div>
<div class="lb" style="transform:translate(361.12px,107.14px) rotate(52.15deg) scale(0.1) translateY(calc(-50% + 6px))">GO:0042581</div>
<div class="lb" style="transform:translate(351.61px,112.69px) rotate(68.50deg) scale(0.1) translateY(calc(-50% + 6px))">GO:0070820</div>
<div class="lb" style="transform:translate(341.89px,115.17px) rotate(83.45deg) scale(0.1) translateY(calc(-50% + 6px))">GO:0030670</div>
<div class="lb lg2" style="transform:translate(332.14px,115.04px) rotate(-82.00deg) scale(0.1) translate(-100%,calc(-50% + 6px))">CXCL8</div>
<div class="lb lg2" style="transform:translate(321.69px,111.95px) rotate(-65.75deg) scale(0.1) translate(-100%,calc(-50% + 6px))">NCF1</div>
<div class="lb lg2" style="transform:translate(312.50px,105.99px) rotate(-49.50deg) scale(0.1) translate(-100%,calc(-50% + 6px))">CAMP</div>
<div class="lb lg2" style="transform:translate(305.40px,97.78px) rotate(-33.50deg) scale(0.1) translate(-100%,calc(-50% + 6px))">MACF</div>
<div class="lb lg2" style="transform:translate(300.68px,87.56px) rotate(-17.00deg) scale(0.1) translate(-100%,calc(-50% + 6px))">FPR1</div>
<div class="lb lg2" style="transform:translate(299.00px,76.39px) rotate(-0.50deg) scale(0.1) translate(-100%,calc(-50% + 6px))">CCR1</div>
<div class="lb lg2" style="transform:translate(300.40px,65.53px) rotate(15.50deg) scale(0.1) translate(-100%,calc(-50% + 6px))">TLR2</div>
<div class="lb lg2" style="transform:translate(304.76px,55.33px) rotate(31.75deg) scale(0.1) translate(-100%,calc(-50% + 6px))">CD14</div>
<div class="lb lg2" style="transform:translate(311.61px,46.90px) rotate(47.75deg) scale(0.1) translate(-100%,calc(-50% + 6px))">CYBB</div>
<div class="lb lg2" style="transform:translate(320.47px,40.73px) rotate(63.75deg) scale(0.1) translate(-100%,calc(-50% + 6px))">NCF2</div>
<div class="lb lg2" style="transform:translate(331.48px,37.16px) rotate(81.00deg) scale(0.1) translate(-100%,calc(-50% + 6px))">FGR</div>
<div class="lb" style="transform:translate(58.57px,197.04px) rotate(-78.60deg) scale(0.1) translateY(calc(-50% + 6px))">GO:0016175</div>
<div class="lb" style="transform:translate(72.89px,203.33px) rotate(-55.15deg) scale(0.1) translateY(calc(-50% + 6px))">GO:0050664</div>
<div class="lb" style="transform:translate(82.86px,213.80px) rotate(-33.70deg) scale(0.1) translateY(calc(-50% + 6px))">GO:0035325</div>
<div class="lb" style="transform:translate(88.41px,227.23px) rotate(-12.35deg) scale(0.1) translateY(calc(-50% + 6px))">GO:0016651</div>
<div class="lb" style="transform:translate(88.50px,243.67px) rotate(11.75deg) scale(0.1) translateY(calc(-50% + 6px))">GO:0009055</div>
<div class="lb" style="transform:translate(84.38px,254.95px) rotate(29.35deg) scale(0.1) translateY(calc(-50% + 6px))">GO:0016176</div>
<div class="lb" style="transform:translate(78.39px,263.18px) rotate(44.35deg) scale(0.1) translateY(calc(-50% + 6px))">GO:0001540</div>
<div class="lb" style="transform:translate(70.06px,269.81px) rotate(60.15deg) scale(0.1) translateY(calc(-50% + 6px))">GO:0050786</div>
<div class="lb" style="transform:translate(62.71px,273.15px) rotate(72.20deg) scale(0.1) translateY(calc(-50% + 6px))">GO:0036041</div>
<div class="lb" style="transform:translate(55.00px,274.82px) rotate(84.00deg) scale(0.1) translateY(calc(-50% + 6px))">GO:0001846</div>
<div class="lb lg2" style="transform:translate(45.17px,274.58px) rotate(-81.25deg) scale(0.1) translate(-100%,calc(-50% + 6px))">S100A9</div>
<div class="lb lg2" style="transform:translate(34.21px,271.05px) rotate(-64.00deg) scale(0.1) translate(-100%,calc(-50% + 6px))">S100A8</div>
<div class="lb lg2" style="transform:translate(24.88px,264.45px) rotate(-47.00deg) scale(0.1) translate(-100%,calc(-50% + 6px))">CYBB</div>
<div class="lb lg2" style="transform:translate(17.67px,255.04px) rotate(-29.50deg) scale(0.1) translate(-100%,calc(-50% + 6px))">NCF1</div>
<div class="lb lg2" style="transform:translate(13.37px,243.00px) rotate(-10.75deg) scale(0.1) translate(-100%,calc(-50% + 6px))">FPR1</div>
<div class="lb lg2" style="transform:translate(13.12px,229.83px) rotate(8.50deg) scale(0.1) translate(-100%,calc(-50% + 6px))">TLR2</div>
<div class="lb lg2" style="transform:translate(16.80px,217.92px) rotate(26.75deg) scale(0.1) translate(-100%,calc(-50% + 6px))">NCF2</div>
<div class="lb lg2" style="transform:translate(23.45px,208.29px) rotate(44.00deg) scale(0.1) translate(-100%,calc(-50% + 6px))">CYBA</div>
<div class="lb lg2" style="transform:translate(32.80px,201.00px) rotate(61.62deg) scale(0.1) translate(-100%,calc(-50% + 6px))">NCF4</div>
<div class="lb lg2" style="transform:translate(44.60px,196.82px) rotate(80.38deg) scale(0.1) translate(-100%,calc(-50% + 6px))">RAC2</div>
<div class="lb" style="transform:translate(348.97px,198.83px) rotate(-75.65deg) scale(0.104) translateY(calc(-50% + 6px))">hsa04670</div>
<div class="lb" style="transform:translate(365.28px,207.76px) rotate(-48.55deg) scale(0.104) translateY(calc(-50% + 6px))">hsa05140</div>
<div class="lb" style="transform:translate(375.61px,222.74px) rotate(-22.45deg) scale(0.104) translateY(calc(-50% + 6px))">hsa04145</div>
<div class="lb" style="transform:translate(378.60px,237.98px) rotate(-0.45deg) scale(0.104) translateY(calc(-50% + 6px))">hsa05418</div>
<div class="lb" style="transform:translate(377.10px,249.43px) rotate(15.85deg) scale(0.104) translateY(calc(-50% + 6px))">hsa05133</div>
<div class="lb" style="transform:translate(372.13px,260.67px) rotate(33.30deg) scale(0.104) translateY(calc(-50% + 6px))">hsa05020</div>
<div class="lb" style="transform:translate(365.46px,268.67px) rotate(48.20deg) scale(0.104) translateY(calc(-50% + 6px))">hsa05144</div>
<div class="lb" style="transform:translate(359.76px,273.06px) rotate(58.55deg) scale(0.104) translateY(calc(-50% + 6px))">hsa05134</div>
<div class="lb" style="transform:translate(353.13px,276.41px) rotate(69.30deg) scale(0.104) translateY(calc(-50% + 6px))">hsa05416</div>
<div class="lb" style="transform:translate(344.41px,278.68px) rotate(82.40deg) scale(0.104) translateY(calc(-50% + 6px))">hsa04062</div>
<div class="lb lg2" style="transform:translate(334.60px,278.76px) rotate(-83.30deg) scale(0.104) translate(-100%,calc(-50% + 6px))">CXCL8</div>
<div class="lb lg2" style="transform:translate(325.55px,276.52px) rotate(-69.72deg) scale(0.104) translate(-100%,calc(-50% + 6px))">NCF1</div>
<div class="lb lg2" style="transform:translate(317.20px,272.10px) rotate(-56.05deg) scale(0.104) translate(-100%,calc(-50% + 6px))">CYBB</div>
<div class="lb lg2" style="transform:translate(309.79px,265.42px) rotate(-41.72deg) scale(0.104) translate(-100%,calc(-50% + 6px))">ICAM1</div>
<div class="lb lg2" style="transform:translate(303.77px,256.13px) rotate(-25.95deg) scale(0.104) translate(-100%,calc(-50% + 6px))">MACF</div>
<div class="lb lg2" style="transform:translate(300.30px,244.74px) rotate(-9.10deg) scale(0.104) translate(-100%,calc(-50% + 6px))">FPR1</div>
<div class="lb lg2" style="transform:translate(300.13px,233.05px) rotate(7.40deg) scale(0.104) translate(-100%,calc(-50% + 6px))">CCR1</div>
<div class="lb lg2" style="transform:translate(302.81px,222.68px) rotate(22.55deg) scale(0.104) translate(-100%,calc(-50% + 6px))">TLR2</div>
<div class="lb lg2" style="transform:translate(307.90px,213.55px) rotate(37.40deg) scale(0.104) translate(-100%,calc(-50% + 6px))">NCF4</div>
<div class="lb lg2" style="transform:translate(315.35px,205.87px) rotate(52.75deg) scale(0.104) translate(-100%,calc(-50% + 6px))">CYBA</div>
<div class="lb lg2" style="transform:translate(324.23px,200.61px) rotate(67.68deg) scale(0.104) translate(-100%,calc(-50% + 6px))">RAC2</div>
<div class="lb lg2" style="transform:translate(334.01px,197.91px) rotate(82.43deg) scale(0.104) translate(-100%,calc(-50% + 6px))">FGR</div>
<div class="hl" style="font-size:30.0px;line-height:30.0px;transform:translate(91.60px,15.80px) scale(0.1) translate(-100%,-50%)">LogFC</div>
<div class="hl" style="font-size:32.5px;line-height:32.5px;transform:translate(94.60px,18.20px) scale(0.1) translate(-50%,-50%)">-2.5</div>
<div class="hl" style="font-size:32.5px;line-height:32.5px;transform:translate(105.50px,18.20px) scale(0.1) translate(-50%,-50%)">0.0</div>
<div class="hl" style="font-size:32.5px;line-height:32.5px;transform:translate(116.40px,18.20px) scale(0.1) translate(-50%,-50%)">2.5</div>
<div class="hl" style="font-size:30.0px;line-height:30.0px;transform:translate(374.60px,14.50px) scale(0.1) translate(-100%,-50%)">LogFC</div>
<div class="hl" style="font-size:32.5px;line-height:32.5px;transform:translate(377.60px,16.90px) scale(0.1) translate(-50%,-50%)">-2.5</div>
<div class="hl" style="font-size:32.5px;line-height:32.5px;transform:translate(388.20px,16.90px) scale(0.1) translate(-50%,-50%)">0.0</div>
<div class="hl" style="font-size:32.5px;line-height:32.5px;transform:translate(398.80px,16.90px) scale(0.1) translate(-50%,-50%)">2.5</div>
<div class="hl" style="font-size:30.0px;line-height:30.0px;transform:translate(87.60px,174.50px) scale(0.1) translate(-100%,-50%)">LogFC</div>
<div class="hl" style="font-size:32.5px;line-height:32.5px;transform:translate(90.60px,176.90px) scale(0.1) translate(-50%,-50%)">-2.5</div>
<div class="hl" style="font-size:32.5px;line-height:32.5px;transform:translate(101.30px,176.90px) scale(0.1) translate(-50%,-50%)">0.0</div>
<div class="hl" style="font-size:32.5px;line-height:32.5px;transform:translate(112.00px,176.90px) scale(0.1) translate(-50%,-50%)">2.5</div>
<div class="hl" style="font-size:30.0px;line-height:30.0px;transform:translate(377.20px,174.90px) scale(0.1) translate(-100%,-50%)">LogFC</div>
<div class="hl" style="font-size:32.5px;line-height:32.5px;transform:translate(380.20px,177.30px) scale(0.1) translate(-50%,-50%)">-2.5</div>
<div class="hl" style="font-size:32.5px;line-height:32.5px;transform:translate(391.20px,177.30px) scale(0.1) translate(-50%,-50%)">0.0</div>
<div class="hl" style="font-size:32.5px;line-height:32.5px;transform:translate(402.20px,177.30px) scale(0.1) translate(-50%,-50%)">2.5</div>
</div></body></html>
